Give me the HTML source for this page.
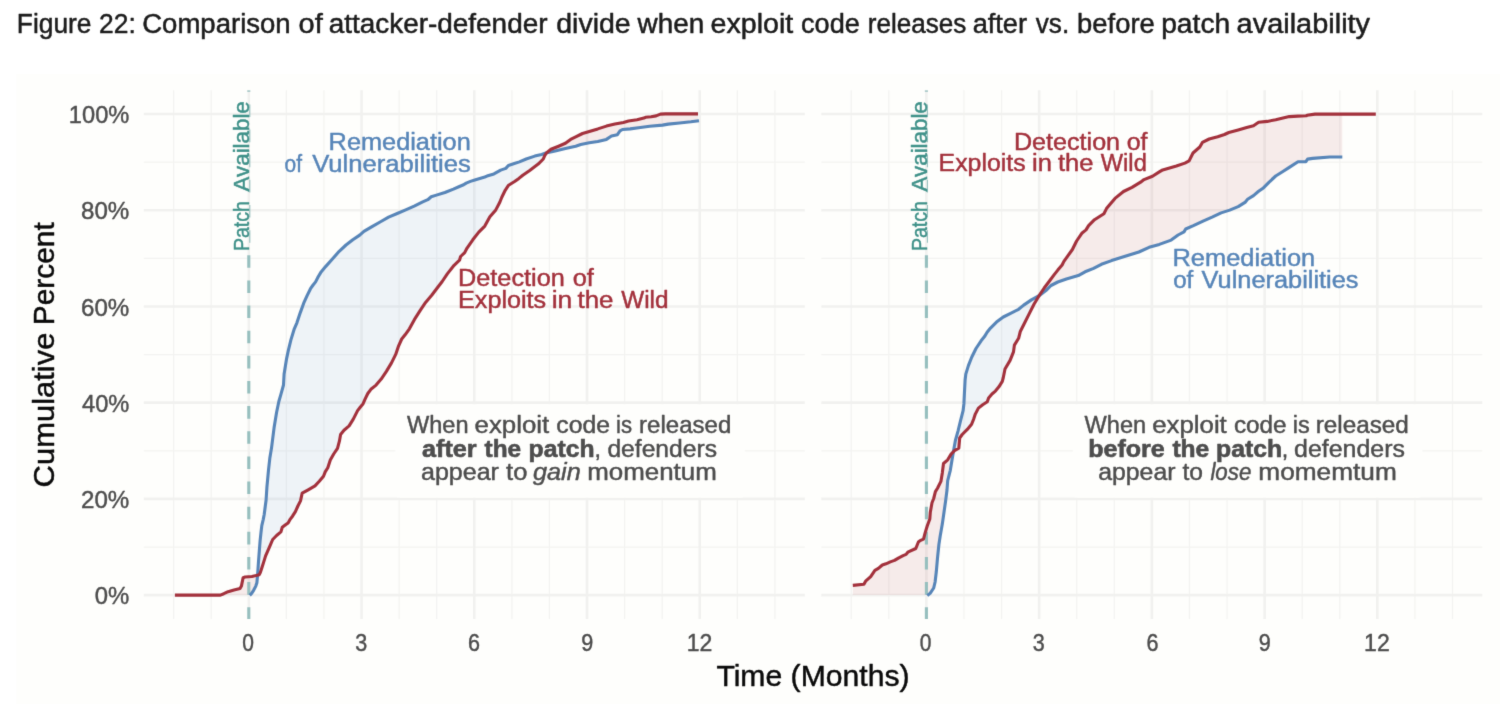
<!DOCTYPE html>
<html>
<head>
<meta charset="utf-8">
<title>Figure 22</title>
<style>
  html, body { margin: 0; padding: 0; background: #ffffff; }
  body { width: 1500px; height: 704px; overflow: hidden; position: relative; font-family: "Liberation Sans", sans-serif; }
  svg { position: absolute; left: 0; top: 0; display: block; }
  text { font-family: "Liberation Sans", sans-serif; white-space: pre; }
</style>
</head>
<body>
<svg width="1500" height="704" viewBox="0 0 1500 704">
<defs><filter id="soft" x="0" y="0" width="1500" height="704" filterUnits="userSpaceOnUse" color-interpolation-filters="sRGB"><feConvolveMatrix order="3" kernelMatrix="0.01134 0.08382 0.01134 0.08382 0.61935 0.08382 0.01134 0.08382 0.01134" edgeMode="duplicate" preserveAlpha="true"/></filter></defs>
<g filter="url(#soft)">
<rect x="-10" y="-10" width="1520" height="724" fill="#ffffff"/>
<rect x="16.5" y="74" width="1493.5" height="640" fill="#fefefc"/>
<g id="gridL"><line x1="143.8" x2="804.8" y1="547.03" y2="547.03" stroke="#f3f3f1" stroke-width="1.25"/>
<line x1="143.8" x2="804.8" y1="450.79" y2="450.79" stroke="#f3f3f1" stroke-width="1.25"/>
<line x1="143.8" x2="804.8" y1="354.55" y2="354.55" stroke="#f3f3f1" stroke-width="1.25"/>
<line x1="143.8" x2="804.8" y1="258.31" y2="258.31" stroke="#f3f3f1" stroke-width="1.25"/>
<line x1="143.8" x2="804.8" y1="162.07" y2="162.07" stroke="#f3f3f1" stroke-width="1.25"/>
<line x1="173.64" x2="173.64" y1="90.3" y2="618.9" stroke="#f3f3f1" stroke-width="1.25"/>
<line x1="211.22" x2="211.22" y1="90.3" y2="618.9" stroke="#f3f3f1" stroke-width="1.25"/>
<line x1="286.38" x2="286.38" y1="90.3" y2="618.9" stroke="#f3f3f1" stroke-width="1.25"/>
<line x1="323.96" x2="323.96" y1="90.3" y2="618.9" stroke="#f3f3f1" stroke-width="1.25"/>
<line x1="399.12" x2="399.12" y1="90.3" y2="618.9" stroke="#f3f3f1" stroke-width="1.25"/>
<line x1="436.70" x2="436.70" y1="90.3" y2="618.9" stroke="#f3f3f1" stroke-width="1.25"/>
<line x1="511.86" x2="511.86" y1="90.3" y2="618.9" stroke="#f3f3f1" stroke-width="1.25"/>
<line x1="549.44" x2="549.44" y1="90.3" y2="618.9" stroke="#f3f3f1" stroke-width="1.25"/>
<line x1="624.60" x2="624.60" y1="90.3" y2="618.9" stroke="#f3f3f1" stroke-width="1.25"/>
<line x1="662.18" x2="662.18" y1="90.3" y2="618.9" stroke="#f3f3f1" stroke-width="1.25"/>
<line x1="737.34" x2="737.34" y1="90.3" y2="618.9" stroke="#f3f3f1" stroke-width="1.25"/>
<line x1="774.92" x2="774.92" y1="90.3" y2="618.9" stroke="#f3f3f1" stroke-width="1.25"/>
<line x1="143.8" x2="804.8" y1="595.15" y2="595.15" stroke="#f1f1ef" stroke-width="2.6"/>
<line x1="143.8" x2="804.8" y1="498.91" y2="498.91" stroke="#f1f1ef" stroke-width="2.6"/>
<line x1="143.8" x2="804.8" y1="402.67" y2="402.67" stroke="#f1f1ef" stroke-width="2.6"/>
<line x1="143.8" x2="804.8" y1="306.43" y2="306.43" stroke="#f1f1ef" stroke-width="2.6"/>
<line x1="143.8" x2="804.8" y1="210.19" y2="210.19" stroke="#f1f1ef" stroke-width="2.6"/>
<line x1="143.8" x2="804.8" y1="113.95" y2="113.95" stroke="#f1f1ef" stroke-width="2.6"/>
<line x1="248.80" x2="248.80" y1="90.3" y2="618.9" stroke="#f1f1ef" stroke-width="2.6"/>
<line x1="361.54" x2="361.54" y1="90.3" y2="618.9" stroke="#f1f1ef" stroke-width="2.6"/>
<line x1="474.28" x2="474.28" y1="90.3" y2="618.9" stroke="#f1f1ef" stroke-width="2.6"/>
<line x1="587.02" x2="587.02" y1="90.3" y2="618.9" stroke="#f1f1ef" stroke-width="2.6"/>
<line x1="699.76" x2="699.76" y1="90.3" y2="618.9" stroke="#f1f1ef" stroke-width="2.6"/></g>
<g id="gridR"><line x1="821.3" x2="1482.3" y1="547.03" y2="547.03" stroke="#f3f3f1" stroke-width="1.25"/>
<line x1="821.3" x2="1482.3" y1="450.79" y2="450.79" stroke="#f3f3f1" stroke-width="1.25"/>
<line x1="821.3" x2="1482.3" y1="354.55" y2="354.55" stroke="#f3f3f1" stroke-width="1.25"/>
<line x1="821.3" x2="1482.3" y1="258.31" y2="258.31" stroke="#f3f3f1" stroke-width="1.25"/>
<line x1="821.3" x2="1482.3" y1="162.07" y2="162.07" stroke="#f3f3f1" stroke-width="1.25"/>
<line x1="851.24" x2="851.24" y1="90.3" y2="618.9" stroke="#f3f3f1" stroke-width="1.25"/>
<line x1="888.82" x2="888.82" y1="90.3" y2="618.9" stroke="#f3f3f1" stroke-width="1.25"/>
<line x1="963.98" x2="963.98" y1="90.3" y2="618.9" stroke="#f3f3f1" stroke-width="1.25"/>
<line x1="1001.56" x2="1001.56" y1="90.3" y2="618.9" stroke="#f3f3f1" stroke-width="1.25"/>
<line x1="1076.72" x2="1076.72" y1="90.3" y2="618.9" stroke="#f3f3f1" stroke-width="1.25"/>
<line x1="1114.30" x2="1114.30" y1="90.3" y2="618.9" stroke="#f3f3f1" stroke-width="1.25"/>
<line x1="1189.46" x2="1189.46" y1="90.3" y2="618.9" stroke="#f3f3f1" stroke-width="1.25"/>
<line x1="1227.04" x2="1227.04" y1="90.3" y2="618.9" stroke="#f3f3f1" stroke-width="1.25"/>
<line x1="1302.20" x2="1302.20" y1="90.3" y2="618.9" stroke="#f3f3f1" stroke-width="1.25"/>
<line x1="1339.78" x2="1339.78" y1="90.3" y2="618.9" stroke="#f3f3f1" stroke-width="1.25"/>
<line x1="1414.94" x2="1414.94" y1="90.3" y2="618.9" stroke="#f3f3f1" stroke-width="1.25"/>
<line x1="1452.52" x2="1452.52" y1="90.3" y2="618.9" stroke="#f3f3f1" stroke-width="1.25"/>
<line x1="821.3" x2="1482.3" y1="595.15" y2="595.15" stroke="#f1f1ef" stroke-width="2.6"/>
<line x1="821.3" x2="1482.3" y1="498.91" y2="498.91" stroke="#f1f1ef" stroke-width="2.6"/>
<line x1="821.3" x2="1482.3" y1="402.67" y2="402.67" stroke="#f1f1ef" stroke-width="2.6"/>
<line x1="821.3" x2="1482.3" y1="306.43" y2="306.43" stroke="#f1f1ef" stroke-width="2.6"/>
<line x1="821.3" x2="1482.3" y1="210.19" y2="210.19" stroke="#f1f1ef" stroke-width="2.6"/>
<line x1="821.3" x2="1482.3" y1="113.95" y2="113.95" stroke="#f1f1ef" stroke-width="2.6"/>
<line x1="926.40" x2="926.40" y1="90.3" y2="618.9" stroke="#f1f1ef" stroke-width="2.6"/>
<line x1="1039.14" x2="1039.14" y1="90.3" y2="618.9" stroke="#f1f1ef" stroke-width="2.6"/>
<line x1="1151.88" x2="1151.88" y1="90.3" y2="618.9" stroke="#f1f1ef" stroke-width="2.6"/>
<line x1="1264.62" x2="1264.62" y1="90.3" y2="618.9" stroke="#f1f1ef" stroke-width="2.6"/>
<line x1="1377.36" x2="1377.36" y1="90.3" y2="618.9" stroke="#f1f1ef" stroke-width="2.6"/></g>
<g id="fillL"><path d="M174.9,595.1 L175.4,595.1 L175.9,595.1 L176.4,595.1 L176.9,595.1 L177.4,595.1 L177.9,595.1 L178.4,595.1 L178.9,595.1 L179.4,595.1 L179.9,595.1 L180.4,595.1 L180.9,595.1 L181.4,595.1 L181.9,595.1 L182.4,595.1 L182.9,595.1 L183.4,595.1 L183.9,595.1 L184.4,595.1 L184.9,595.1 L185.4,595.1 L185.9,595.1 L186.4,595.1 L186.9,595.1 L187.4,595.1 L187.9,595.1 L188.4,595.1 L188.9,595.1 L189.4,595.1 L189.9,595.1 L190.4,595.1 L190.9,595.1 L191.4,595.1 L191.9,595.1 L192.4,595.1 L192.9,595.1 L193.4,595.1 L193.9,595.1 L194.4,595.1 L194.9,595.1 L195.4,595.1 L195.9,595.1 L196.4,595.1 L196.9,595.1 L197.4,595.1 L197.9,595.1 L198.4,595.1 L198.9,595.1 L199.4,595.1 L199.9,595.1 L200.4,595.1 L200.9,595.1 L201.4,595.1 L201.9,595.1 L202.4,595.1 L202.9,595.1 L203.4,595.1 L203.9,595.1 L204.4,595.1 L204.9,595.1 L205.4,595.1 L205.9,595.1 L206.4,595.1 L206.9,595.1 L207.4,595.1 L207.9,595.1 L208.4,595.1 L208.9,595.1 L209.4,595.1 L209.9,595.1 L210.4,595.1 L210.9,595.1 L211.4,595.1 L211.9,595.1 L212.4,595.1 L212.9,595.1 L213.4,595.1 L213.9,595.1 L214.4,595.1 L214.9,595.1 L215.4,595.1 L215.9,595.1 L216.4,595.1 L216.9,595.1 L217.4,595.1 L217.9,595.1 L218.4,595.1 L218.9,595.1 L219.4,595.1 L219.9,595.1 L220.4,595.1 L220.9,594.9 L221.4,594.7 L221.9,594.5 L222.4,594.3 L222.9,594.1 L223.4,593.9 L223.8,593.7 L223.9,593.7 L224.4,593.5 L224.9,593.2 L225.4,593.0 L225.9,592.7 L226.4,592.5 L226.9,592.3 L227.4,592.0 L227.9,591.8 L228.1,591.7 L228.4,591.6 L228.9,591.5 L229.4,591.3 L229.9,591.2 L230.4,591.0 L230.9,590.9 L231.4,590.7 L231.9,590.6 L232.4,590.5 L232.9,590.3 L233.4,590.2 L233.9,590.0 L234.0,590.0 L234.4,589.9 L234.9,589.8 L235.4,589.7 L235.9,589.6 L236.4,589.5 L236.9,589.3 L237.4,589.2 L237.9,589.1 L238.4,589.0 L238.9,588.9 L239.4,588.8 L239.9,588.7 L240.0,588.6 L240.4,587.9 L240.9,587.0 L241.4,586.1 L241.4,585.9 L241.9,583.5 L242.4,581.0 L242.9,578.6 L243.1,577.7 L243.4,577.6 L243.9,577.4 L244.4,577.3 L244.9,577.1 L245.1,577.0 L245.4,577.0 L245.9,577.0 L246.4,576.9 L246.9,576.9 L247.4,576.9 L247.9,576.8 L248.4,576.8 L248.9,576.8 L249.4,576.7 L249.7,576.7 L249.9,576.7 L250.4,576.6 L250.9,576.6 L251.4,576.6 L251.6,576.6 L251.9,576.5 L251.9,576.5 L252.4,576.4 L252.9,576.3 L253.4,576.2 L253.6,576.1 L253.9,576.0 L254.4,575.9 L254.9,575.8 L255.4,575.6 L255.8,575.5 L255.9,575.5 L256.4,575.4 L256.9,575.3 L256.9,575.3 L257.4,575.1 L257.6,575.1 L257.6,575.0 L257.4,576.8 L256.9,582.4 L256.9,582.7 L256.4,584.3 L255.9,585.9 L255.8,586.1 L255.4,587.0 L254.9,587.9 L254.4,588.9 L253.9,589.8 L253.6,590.3 L253.4,590.7 L252.9,591.4 L252.4,592.2 L251.9,592.9 L251.9,592.9 L251.6,593.4 L251.4,593.6 L250.9,594.2 L250.4,594.7 L249.9,595.3 L249.7,595.1 L249.4,595.1 L248.9,595.1 L248.4,595.1 L247.9,595.1 L247.4,595.1 L246.9,595.1 L246.4,595.1 L245.9,595.1 L245.4,595.1 L245.1,595.1 L244.9,595.1 L244.4,595.1 L243.9,595.1 L243.4,595.1 L243.1,595.1 L242.9,595.1 L242.4,595.1 L241.9,595.1 L241.4,595.1 L241.4,595.1 L240.9,595.1 L240.4,595.1 L240.0,595.1 L239.9,595.1 L239.4,595.1 L238.9,595.1 L238.4,595.1 L237.9,595.1 L237.4,595.1 L236.9,595.1 L236.4,595.1 L235.9,595.1 L235.4,595.1 L234.9,595.1 L234.4,595.1 L234.0,595.1 L233.9,595.1 L233.4,595.1 L232.9,595.1 L232.4,595.1 L231.9,595.1 L231.4,595.1 L230.9,595.1 L230.4,595.1 L229.9,595.1 L229.4,595.1 L228.9,595.1 L228.4,595.1 L228.1,595.1 L227.9,595.1 L227.4,595.1 L226.9,595.1 L226.4,595.1 L225.9,595.1 L225.4,595.1 L224.9,595.1 L224.4,595.1 L223.9,595.1 L223.8,595.1 L223.4,595.1 L222.9,595.1 L222.4,595.1 L221.9,595.1 L221.4,595.1 L220.9,595.1 L220.4,595.1 L219.9,595.1 L219.4,595.1 L218.9,595.1 L218.4,595.1 L217.9,595.1 L217.4,595.1 L216.9,595.1 L216.4,595.1 L215.9,595.1 L215.4,595.1 L214.9,595.1 L214.4,595.1 L213.9,595.1 L213.4,595.1 L212.9,595.1 L212.4,595.1 L211.9,595.1 L211.4,595.1 L210.9,595.1 L210.4,595.1 L209.9,595.1 L209.4,595.1 L208.9,595.1 L208.4,595.1 L207.9,595.1 L207.4,595.1 L206.9,595.1 L206.4,595.1 L205.9,595.1 L205.4,595.1 L204.9,595.1 L204.4,595.1 L203.9,595.1 L203.4,595.1 L202.9,595.1 L202.4,595.1 L201.9,595.1 L201.4,595.1 L200.9,595.1 L200.4,595.1 L199.9,595.1 L199.4,595.1 L198.9,595.1 L198.4,595.1 L197.9,595.1 L197.4,595.1 L196.9,595.1 L196.4,595.1 L195.9,595.1 L195.4,595.1 L194.9,595.1 L194.4,595.1 L193.9,595.1 L193.4,595.1 L192.9,595.1 L192.4,595.1 L191.9,595.1 L191.4,595.1 L190.9,595.1 L190.4,595.1 L189.9,595.1 L189.4,595.1 L188.9,595.1 L188.4,595.1 L187.9,595.1 L187.4,595.1 L186.9,595.1 L186.4,595.1 L185.9,595.1 L185.4,595.1 L184.9,595.1 L184.4,595.1 L183.9,595.1 L183.4,595.1 L182.9,595.1 L182.4,595.1 L181.9,595.1 L181.4,595.1 L180.9,595.1 L180.4,595.1 L179.9,595.1 L179.4,595.1 L178.9,595.1 L178.4,595.1 L177.9,595.1 L177.4,595.1 L176.9,595.1 L176.4,595.1 L175.9,595.1 L175.4,595.1 L174.9,595.1 Z" fill="#ae4052" fill-opacity="0.1" stroke="none"/>
<path d="M257.6,575.1 L257.9,575.0 L258.4,574.9 L258.4,574.9 L258.9,574.7 L259.3,574.6 L259.4,574.4 L259.9,573.5 L260.1,573.1 L260.4,572.5 L260.4,572.4 L260.9,571.0 L261.0,570.8 L261.4,569.3 L261.8,567.9 L261.9,567.7 L262.1,566.8 L262.4,566.1 L262.9,564.5 L263.2,563.5 L263.4,562.9 L263.9,561.4 L263.9,561.3 L264.2,560.3 L264.4,559.7 L264.9,558.1 L265.2,557.0 L265.4,556.5 L265.6,555.9 L265.9,555.2 L266.1,554.7 L266.4,554.0 L266.9,552.9 L266.9,552.8 L267.4,551.7 L267.9,550.6 L268.4,549.4 L268.5,549.2 L268.9,548.3 L269.0,548.1 L269.4,547.1 L269.8,546.1 L269.9,546.0 L270.4,544.8 L270.9,543.7 L271.4,542.6 L271.5,542.3 L271.9,541.4 L272.4,540.3 L272.7,539.5 L272.9,539.4 L273.4,538.8 L273.9,538.3 L274.1,538.1 L274.4,537.8 L274.9,537.3 L275.4,536.8 L275.9,536.2 L276.4,535.7 L276.6,535.5 L276.6,535.4 L276.9,535.2 L277.4,534.8 L277.9,534.4 L278.4,534.0 L278.9,533.6 L278.9,533.6 L279.4,533.1 L279.9,532.7 L280.4,532.3 L280.9,531.9 L280.9,531.9 L280.9,531.8 L281.4,530.2 L281.9,528.5 L282.3,527.3 L282.4,527.2 L282.9,526.8 L283.4,526.4 L283.5,526.4 L283.9,526.0 L284.1,525.9 L284.4,525.6 L284.9,525.3 L285.2,525.1 L285.4,524.9 L285.9,524.5 L286.4,524.2 L286.6,524.0 L286.9,523.8 L287.4,523.5 L287.9,523.1 L288.1,523.0 L288.4,522.5 L288.4,522.4 L288.9,521.5 L289.4,520.7 L289.9,519.8 L290.3,519.1 L290.4,518.9 L290.9,518.3 L290.9,518.3 L291.4,517.6 L291.9,517.0 L292.4,516.3 L292.5,516.2 L292.9,515.6 L293.4,514.8 L293.9,514.0 L294.3,513.3 L294.4,513.2 L294.9,512.4 L295.4,511.6 L295.9,510.5 L296.4,509.4 L296.9,508.3 L296.9,508.3 L297.4,507.2 L297.9,506.1 L297.9,506.0 L298.4,505.1 L298.9,504.1 L299.4,503.1 L299.9,502.1 L300.3,501.3 L300.4,501.1 L300.5,500.9 L300.9,499.1 L301.4,496.9 L301.9,494.7 L302.2,493.2 L302.4,493.1 L302.9,492.8 L303.4,492.6 L303.7,492.4 L303.9,492.3 L304.4,492.0 L304.9,491.7 L305.4,491.4 L305.9,491.1 L306.4,490.8 L306.9,490.6 L307.1,490.4 L307.4,490.3 L307.9,490.0 L308.2,489.8 L308.4,489.7 L308.9,489.4 L309.4,489.1 L309.9,488.8 L310.4,488.6 L310.5,488.5 L310.9,488.3 L311.4,488.0 L311.9,487.7 L312.4,487.4 L312.9,487.1 L313.1,487.0 L313.4,486.8 L313.9,486.5 L314.4,486.3 L314.9,486.0 L315.0,485.9 L315.4,485.5 L315.6,485.2 L315.9,484.9 L316.4,484.4 L316.9,483.9 L317.4,483.3 L317.9,482.8 L318.2,482.5 L318.4,482.2 L318.9,481.7 L319.3,481.3 L319.4,481.1 L319.9,480.5 L320.4,479.9 L320.7,479.5 L320.9,479.3 L321.4,478.7 L321.9,478.1 L322.4,477.5 L322.9,476.9 L323.4,476.3 L323.5,476.2 L323.9,475.3 L324.4,474.0 L324.9,472.8 L325.2,471.9 L325.4,471.6 L325.6,471.3 L325.9,470.8 L326.4,470.0 L326.9,469.1 L327.4,468.3 L327.8,467.7 L327.9,467.3 L328.4,465.8 L328.9,464.3 L329.4,462.8 L329.9,461.3 L330.3,460.0 L330.4,459.9 L330.9,459.0 L331.4,458.2 L331.9,457.3 L332.4,456.4 L332.4,456.4 L332.9,455.5 L333.4,454.7 L333.7,454.0 L333.9,453.8 L334.4,453.1 L334.9,452.3 L335.4,451.6 L335.9,450.8 L336.4,450.1 L336.9,449.3 L337.4,448.6 L337.5,448.4 L337.9,446.9 L338.4,445.0 L338.9,443.1 L339.2,441.9 L339.4,441.2 L339.4,441.1 L339.9,438.3 L340.4,435.4 L340.6,434.4 L340.9,434.0 L341.4,433.4 L341.9,432.8 L342.4,432.1 L342.9,431.5 L343.4,430.9 L343.9,430.3 L344.0,430.2 L344.4,429.8 L344.9,429.4 L345.4,429.0 L345.9,428.6 L346.0,428.5 L346.4,428.2 L346.9,427.7 L347.4,427.3 L347.9,426.9 L348.4,426.5 L348.9,426.1 L349.1,425.9 L349.4,425.4 L349.9,424.6 L350.4,423.8 L350.9,423.0 L351.4,422.2 L351.9,421.4 L352.4,420.6 L352.8,419.9 L352.9,419.8 L353.4,419.1 L353.4,419.0 L353.9,418.0 L354.4,417.0 L354.9,416.0 L355.4,415.0 L355.9,414.0 L356.4,413.0 L356.9,412.0 L357.4,411.0 L357.6,410.6 L357.9,410.2 L358.4,409.5 L358.9,408.9 L359.4,408.2 L359.7,407.8 L359.9,407.5 L360.2,407.2 L360.4,406.9 L360.9,406.3 L361.4,405.7 L361.9,405.1 L362.4,404.5 L362.9,404.0 L363.1,403.8 L363.4,403.0 L363.9,401.8 L363.9,401.8 L364.4,400.7 L364.9,399.5 L365.3,398.6 L365.4,398.4 L365.9,397.4 L366.4,396.4 L366.9,395.4 L367.4,394.4 L367.8,393.5 L367.9,393.4 L368.4,392.7 L368.9,392.1 L369.4,391.4 L369.9,390.7 L370.4,390.0 L370.9,389.3 L370.9,389.3 L371.4,388.9 L371.6,388.7 L371.9,388.5 L372.4,388.1 L372.9,387.7 L373.4,387.3 L373.9,386.9 L374.4,386.5 L374.9,386.0 L375.4,385.6 L375.9,385.2 L376.1,385.0 L376.4,384.7 L376.9,384.2 L377.4,383.6 L377.9,383.0 L378.4,382.4 L378.9,381.8 L379.4,381.2 L379.9,380.7 L380.1,380.4 L380.4,380.1 L380.9,379.5 L381.2,379.1 L381.4,378.9 L381.9,378.1 L382.4,377.4 L382.9,376.6 L383.4,375.9 L383.9,375.1 L384.4,374.4 L384.9,373.6 L385.4,372.9 L385.9,372.1 L386.4,371.4 L386.4,371.4 L386.9,370.5 L387.4,369.7 L387.9,368.9 L388.4,368.0 L388.6,367.6 L388.9,367.2 L389.4,366.4 L389.9,365.5 L390.4,364.7 L390.9,363.9 L391.4,363.0 L391.5,362.9 L391.9,362.1 L392.4,361.1 L392.9,360.1 L393.4,359.1 L393.9,358.1 L394.4,357.1 L394.9,356.1 L395.4,355.1 L395.7,354.4 L395.9,353.9 L396.4,352.4 L396.9,350.9 L397.1,350.1 L397.4,349.4 L397.9,347.9 L398.3,346.7 L398.4,346.5 L398.9,345.3 L399.4,344.2 L399.9,343.1 L400.4,342.0 L400.9,340.8 L401.4,339.7 L401.7,339.0 L401.9,338.8 L402.4,338.2 L402.9,337.5 L403.4,336.9 L403.9,336.3 L404.4,335.7 L404.9,335.0 L405.1,334.8 L405.4,334.4 L405.7,334.0 L405.9,333.7 L406.4,333.0 L406.9,332.3 L407.4,331.6 L407.9,330.9 L408.4,330.2 L408.9,329.5 L409.4,328.8 L409.4,328.8 L409.9,327.8 L410.4,326.9 L410.9,326.0 L411.4,325.1 L411.9,324.2 L412.4,323.3 L412.9,322.3 L413.4,321.4 L413.9,320.5 L414.2,319.9 L414.4,319.6 L414.5,319.4 L414.9,318.8 L415.4,318.0 L415.9,317.2 L416.4,316.4 L416.9,315.6 L417.4,314.9 L417.9,314.1 L418.4,313.3 L418.9,312.5 L419.4,311.7 L419.9,310.9 L420.4,310.1 L420.4,310.1 L420.9,309.4 L421.4,308.6 L421.9,307.9 L422.4,307.1 L422.7,306.6 L422.9,306.4 L423.4,305.6 L423.9,304.9 L424.4,304.1 L424.9,303.4 L425.4,302.6 L425.6,302.4 L425.9,302.0 L426.4,301.4 L426.9,300.8 L427.4,300.3 L427.8,299.7 L427.9,299.7 L428.4,299.1 L428.9,298.5 L429.4,297.9 L429.9,297.4 L430.4,296.8 L430.9,296.2 L431.2,295.8 L431.4,295.6 L431.9,295.0 L431.9,295.0 L432.4,294.4 L432.9,293.7 L433.4,293.1 L433.9,292.4 L434.4,291.8 L434.9,291.1 L435.4,290.5 L435.9,289.8 L436.4,289.2 L436.4,289.2 L436.9,288.5 L437.0,288.4 L437.4,287.9 L437.9,287.2 L438.4,286.6 L438.9,285.9 L439.4,285.2 L439.9,284.6 L440.4,283.9 L440.9,283.2 L441.4,282.6 L441.9,281.9 L442.2,281.5 L442.4,281.2 L442.9,280.4 L443.4,279.7 L443.9,278.9 L444.4,278.2 L444.9,277.4 L444.9,277.4 L445.4,276.7 L445.9,275.9 L446.4,275.2 L446.9,274.4 L447.3,273.9 L447.4,273.7 L447.9,273.1 L448.4,272.5 L448.9,271.8 L449.4,271.2 L449.9,270.6 L450.4,270.0 L450.9,269.3 L451.4,268.7 L451.9,268.1 L452.4,267.5 L452.9,266.8 L453.4,266.2 L453.4,266.2 L453.9,265.6 L454.1,265.3 L454.4,265.1 L454.9,264.6 L455.4,264.1 L455.9,263.6 L456.4,263.2 L456.9,262.7 L457.4,262.2 L457.9,261.8 L458.4,261.3 L458.9,260.8 L459.4,260.4 L459.4,260.4 L459.5,260.2 L459.9,259.0 L460.4,257.1 L460.6,256.5 L460.9,256.2 L461.4,255.7 L461.9,255.2 L462.4,254.7 L462.9,254.2 L463.4,253.8 L463.6,253.5 L463.9,253.3 L464.4,252.8 L464.7,252.5 L464.9,252.1 L465.4,251.1 L465.9,250.2 L466.2,249.6 L466.4,249.2 L466.9,248.3 L466.9,248.3 L467.4,247.6 L467.9,246.8 L468.4,246.1 L468.9,245.4 L469.4,244.7 L469.9,244.0 L470.4,243.3 L470.4,243.2 L470.9,242.6 L471.4,241.8 L471.9,241.1 L472.4,240.4 L472.8,239.8 L472.9,239.7 L473.4,239.1 L473.9,238.4 L474.4,237.8 L474.9,237.1 L475.4,236.5 L475.6,236.3 L475.9,235.8 L476.4,235.2 L476.9,234.6 L477.4,233.9 L477.9,233.3 L478.4,232.6 L478.8,232.1 L478.9,232.0 L479.4,231.5 L479.9,231.0 L480.4,230.5 L480.9,230.0 L481.4,229.5 L481.9,229.0 L482.4,228.5 L482.9,228.0 L483.4,227.5 L483.9,227.0 L484.4,226.5 L484.8,226.1 L484.9,225.9 L485.4,225.0 L485.9,224.1 L486.4,223.2 L486.9,222.2 L487.0,222.0 L487.4,221.3 L487.9,220.4 L488.4,219.5 L488.9,218.6 L489.4,217.7 L489.9,216.8 L489.9,216.8 L490.4,216.2 L490.9,215.6 L491.4,215.0 L491.9,214.5 L492.4,213.9 L492.9,213.3 L493.4,212.8 L493.9,212.2 L493.9,212.2 L494.4,211.6 L494.9,211.0 L495.4,210.5 L495.9,209.9 L495.9,209.9 L496.4,208.9 L496.9,207.9 L497.4,206.9 L497.9,205.9 L498.4,205.0 L498.9,204.0 L499.4,203.0 L499.8,202.3 L499.9,202.0 L500.4,200.7 L500.7,200.0 L500.9,199.5 L501.4,198.2 L501.8,197.2 L501.9,197.0 L502.4,196.0 L502.9,195.0 L503.4,194.0 L503.9,193.0 L504.4,192.0 L504.9,191.0 L505.2,190.3 L505.4,190.1 L505.8,189.5 L505.9,189.3 L506.4,188.6 L506.9,187.8 L507.4,187.1 L507.9,186.3 L508.4,185.6 L508.4,185.6 L508.6,185.2 L508.9,185.1 L509.4,184.7 L509.9,184.4 L510.4,184.1 L510.9,183.8 L511.4,183.5 L511.9,183.2 L512.4,182.9 L512.9,182.5 L513.4,182.2 L513.9,181.9 L514.3,181.7 L514.4,181.6 L514.6,181.5 L514.9,181.3 L515.4,180.9 L515.9,180.5 L516.4,180.2 L516.9,179.8 L517.4,179.5 L517.9,179.1 L518.4,178.7 L518.9,178.4 L518.9,178.4 L519.4,178.0 L519.4,178.0 L519.9,177.6 L520.4,177.2 L520.9,176.8 L521.4,176.4 L521.9,176.0 L522.4,175.6 L522.8,175.2 L522.9,175.2 L523.4,174.8 L523.9,174.5 L524.4,174.1 L524.9,173.8 L525.4,173.4 L525.9,173.1 L526.2,172.8 L526.4,172.7 L526.9,172.4 L527.4,172.0 L527.9,171.7 L528.4,171.3 L528.9,171.0 L529.4,170.6 L529.7,170.4 L529.9,170.3 L530.4,169.9 L530.9,169.5 L531.4,169.2 L531.9,168.8 L532.4,168.4 L532.9,168.1 L533.4,167.7 L533.9,167.3 L534.4,166.9 L534.8,166.7 L534.9,166.6 L535.4,166.2 L535.9,165.8 L536.4,165.5 L536.9,165.1 L537.4,164.7 L537.9,164.4 L538.2,164.1 L538.4,163.9 L538.9,163.4 L539.4,162.9 L539.9,162.4 L540.4,161.9 L540.9,161.4 L541.4,160.9 L541.6,160.7 L541.9,160.4 L542.4,159.9 L542.9,159.4 L543.3,159.0 L543.4,158.8 L543.9,157.5 L544.4,156.3 L544.6,155.6 L544.9,155.3 L545.4,154.6 L545.9,153.9 L545.9,153.9 L546.4,153.2 L546.7,152.7 L546.7,152.9 L546.4,152.9 L545.9,153.1 L545.9,153.1 L545.4,153.2 L544.9,153.4 L544.6,153.4 L544.4,153.5 L543.9,153.7 L543.4,153.9 L543.3,153.9 L542.9,154.0 L542.4,154.2 L541.9,154.3 L541.6,154.4 L541.4,154.5 L540.9,154.6 L540.4,154.7 L539.9,154.9 L539.4,155.0 L538.9,155.1 L538.4,155.2 L538.2,155.3 L537.9,155.4 L537.4,155.5 L536.9,155.6 L536.4,155.7 L535.9,155.9 L535.4,156.0 L534.9,156.1 L534.8,156.1 L534.4,156.3 L533.9,156.4 L533.4,156.6 L532.9,156.8 L532.4,156.9 L531.9,157.1 L531.4,157.3 L530.9,157.5 L530.4,157.6 L529.9,157.8 L529.7,157.9 L529.4,158.0 L528.9,158.1 L528.4,158.3 L527.9,158.5 L527.4,158.6 L526.9,158.8 L526.4,159.0 L526.2,159.0 L525.9,159.2 L525.4,159.4 L524.9,159.6 L524.4,159.8 L523.9,160.0 L523.4,160.2 L522.9,160.5 L522.8,160.5 L522.4,160.7 L521.9,160.9 L521.4,161.1 L520.9,161.3 L520.4,161.5 L519.9,161.7 L519.4,161.9 L519.4,161.9 L518.9,162.1 L518.9,162.1 L518.4,162.3 L517.9,162.4 L517.4,162.6 L516.9,162.8 L516.4,162.9 L515.9,163.1 L515.4,163.3 L514.9,163.4 L514.6,163.5 L514.4,163.6 L514.3,163.6 L513.9,163.8 L513.4,163.9 L512.9,164.1 L512.4,164.2 L511.9,164.4 L511.4,164.6 L510.9,164.7 L510.4,164.9 L509.9,165.0 L509.4,165.2 L508.9,165.3 L508.6,165.4 L508.4,165.5 L508.4,165.5 L507.9,166.0 L507.4,166.6 L506.9,167.2 L506.4,167.7 L505.9,168.3 L505.8,168.4 L505.4,168.5 L505.2,168.6 L504.9,168.7 L504.4,168.9 L503.9,169.0 L503.4,169.2 L502.9,169.4 L502.4,169.5 L501.9,169.7 L501.8,169.7 L501.4,169.9 L500.9,170.0 L500.7,170.1 L500.4,170.3 L499.9,170.5 L499.8,170.6 L499.4,170.8 L498.9,171.1 L498.4,171.4 L497.9,171.6 L497.4,171.9 L496.9,172.2 L496.4,172.5 L495.9,172.7 L495.9,172.8 L495.4,173.0 L494.9,173.3 L494.4,173.6 L493.9,173.8 L493.9,173.9 L493.4,174.0 L492.9,174.2 L492.4,174.3 L491.9,174.5 L491.4,174.7 L490.9,174.8 L490.4,175.0 L489.9,175.1 L489.9,175.2 L489.4,175.3 L488.9,175.5 L488.4,175.6 L487.9,175.8 L487.4,176.0 L487.0,176.1 L486.9,176.1 L486.4,176.4 L485.9,176.6 L485.4,176.8 L484.9,177.0 L484.8,177.0 L484.4,177.2 L483.9,177.3 L483.4,177.4 L482.9,177.6 L482.4,177.7 L481.9,177.9 L481.4,178.0 L480.9,178.2 L480.4,178.3 L479.9,178.5 L479.4,178.6 L478.9,178.7 L478.8,178.8 L478.4,178.9 L477.9,179.0 L477.4,179.2 L476.9,179.3 L476.4,179.5 L475.9,179.6 L475.6,179.7 L475.4,179.8 L474.9,179.9 L474.4,180.1 L473.9,180.3 L473.4,180.4 L472.9,180.6 L472.8,180.6 L472.4,180.8 L471.9,180.9 L471.4,181.1 L470.9,181.3 L470.4,181.4 L470.4,181.4 L469.9,181.6 L469.4,181.8 L468.9,182.0 L468.4,182.2 L467.9,182.4 L467.4,182.6 L466.9,182.8 L466.9,182.8 L466.4,183.0 L466.2,183.1 L465.9,183.3 L465.4,183.7 L464.9,184.0 L464.7,184.1 L464.4,184.3 L463.9,184.7 L463.6,184.8 L463.4,184.9 L462.9,185.1 L462.4,185.3 L461.9,185.5 L461.4,185.7 L460.9,185.9 L460.6,186.1 L460.4,186.1 L459.9,186.3 L459.5,186.5 L459.4,186.5 L459.4,186.5 L458.9,186.7 L458.4,187.0 L457.9,187.2 L457.4,187.4 L456.9,187.6 L456.4,187.8 L455.9,188.0 L455.4,188.2 L454.9,188.5 L454.4,188.7 L454.1,188.8 L453.9,188.9 L453.4,189.1 L453.4,189.1 L452.9,189.3 L452.4,189.5 L451.9,189.7 L451.4,189.9 L450.9,190.1 L450.4,190.3 L449.9,190.5 L449.4,190.7 L448.9,190.9 L448.4,191.1 L447.9,191.3 L447.4,191.5 L447.3,191.5 L446.9,191.7 L446.4,191.9 L445.9,192.1 L445.4,192.3 L444.9,192.5 L444.9,192.5 L444.4,192.6 L443.9,192.8 L443.4,192.9 L442.9,193.1 L442.4,193.2 L442.2,193.3 L441.9,193.4 L441.4,193.5 L440.9,193.7 L440.4,193.8 L439.9,194.0 L439.4,194.1 L438.9,194.3 L438.4,194.4 L437.9,194.6 L437.4,194.7 L437.0,194.8 L436.9,194.9 L436.4,195.0 L436.4,195.1 L435.9,195.2 L435.4,195.4 L434.9,195.5 L434.4,195.7 L433.9,195.9 L433.4,196.0 L432.9,196.2 L432.4,196.4 L431.9,196.5 L431.9,196.5 L431.4,196.7 L431.2,196.8 L430.9,197.1 L430.4,197.5 L429.9,197.9 L429.4,198.3 L428.9,198.8 L428.4,199.2 L427.9,199.6 L427.8,199.7 L427.4,199.8 L426.9,200.1 L426.4,200.3 L425.9,200.5 L425.6,200.6 L425.4,200.7 L424.9,200.9 L424.4,201.1 L423.9,201.4 L423.4,201.6 L422.9,201.8 L422.7,201.9 L422.4,202.0 L421.9,202.3 L421.4,202.5 L420.9,202.8 L420.4,203.0 L420.4,203.0 L419.9,203.3 L419.4,203.5 L418.9,203.8 L418.4,204.0 L417.9,204.3 L417.4,204.5 L416.9,204.8 L416.4,205.0 L415.9,205.3 L415.4,205.5 L414.9,205.8 L414.5,206.0 L414.4,206.0 L414.2,206.1 L413.9,206.3 L413.4,206.5 L412.9,206.7 L412.4,206.9 L411.9,207.1 L411.4,207.4 L410.9,207.6 L410.4,207.8 L409.9,208.0 L409.4,208.2 L409.4,208.3 L408.9,208.5 L408.4,208.7 L407.9,208.9 L407.4,209.1 L406.9,209.3 L406.4,209.6 L405.9,209.8 L405.7,209.9 L405.4,210.0 L405.1,210.1 L404.9,210.2 L404.4,210.4 L403.9,210.6 L403.4,210.8 L402.9,211.1 L402.4,211.3 L401.9,211.5 L401.7,211.6 L401.4,211.7 L400.9,211.9 L400.4,212.1 L399.9,212.3 L399.4,212.5 L398.9,212.7 L398.4,212.9 L398.3,213.0 L397.9,213.2 L397.4,213.4 L397.1,213.5 L396.9,213.6 L396.4,213.8 L395.9,214.0 L395.7,214.1 L395.4,214.2 L394.9,214.5 L394.4,214.7 L393.9,214.9 L393.4,215.1 L392.9,215.3 L392.4,215.6 L391.9,215.8 L391.5,216.0 L391.4,216.0 L390.9,216.2 L390.4,216.4 L389.9,216.7 L389.4,216.9 L388.9,217.1 L388.6,217.2 L388.4,217.3 L387.9,217.6 L387.4,217.9 L386.9,218.2 L386.4,218.5 L386.4,218.5 L385.9,218.7 L385.4,219.0 L384.9,219.3 L384.4,219.6 L383.9,219.9 L383.4,220.1 L382.9,220.4 L382.4,220.7 L381.9,221.0 L381.4,221.3 L381.2,221.4 L380.9,221.5 L380.4,221.8 L380.1,222.0 L379.9,222.1 L379.4,222.4 L378.9,222.7 L378.4,223.0 L377.9,223.3 L377.4,223.6 L376.9,223.9 L376.4,224.1 L376.1,224.3 L375.9,224.4 L375.4,224.7 L374.9,225.0 L374.4,225.3 L373.9,225.6 L373.4,225.9 L372.9,226.2 L372.4,226.5 L371.9,226.8 L371.6,226.9 L371.4,227.0 L370.9,227.3 L370.9,227.3 L370.4,227.6 L369.9,227.9 L369.4,228.2 L368.9,228.5 L368.4,228.8 L367.9,229.1 L367.8,229.1 L367.4,229.4 L366.9,229.6 L366.4,229.9 L365.9,230.2 L365.4,230.5 L365.3,230.6 L364.9,230.8 L364.4,231.1 L363.9,231.4 L363.9,231.4 L363.4,231.8 L363.1,232.1 L362.9,232.3 L362.4,232.7 L361.9,233.1 L361.4,233.6 L360.9,234.0 L360.4,234.5 L360.2,234.7 L359.9,234.9 L359.7,235.1 L359.4,235.3 L358.9,235.6 L358.4,236.0 L357.9,236.3 L357.6,236.5 L357.4,236.6 L356.9,237.0 L356.4,237.3 L355.9,237.7 L355.4,238.0 L354.9,238.3 L354.4,238.7 L353.9,239.0 L353.4,239.3 L353.4,239.4 L352.9,239.7 L352.8,239.7 L352.4,240.1 L351.9,240.4 L351.4,240.8 L350.9,241.2 L350.4,241.6 L349.9,242.0 L349.4,242.4 L349.1,242.6 L348.9,242.8 L348.4,243.2 L347.9,243.5 L347.4,243.9 L346.9,244.3 L346.4,244.7 L346.0,245.0 L345.9,245.1 L345.4,245.6 L344.9,246.0 L344.4,246.5 L344.0,246.9 L343.9,247.0 L343.4,247.4 L342.9,247.9 L342.4,248.4 L341.9,248.8 L341.4,249.3 L340.9,249.7 L340.6,250.0 L340.4,250.2 L339.9,250.7 L339.4,251.1 L339.4,251.1 L339.2,251.3 L338.9,251.7 L338.4,252.2 L337.9,252.8 L337.5,253.2 L337.4,253.3 L336.9,253.9 L336.4,254.5 L335.9,255.0 L335.4,255.6 L334.9,256.2 L334.4,256.7 L333.9,257.3 L333.7,257.4 L333.4,257.8 L332.9,258.4 L332.4,259.0 L332.4,259.0 L331.9,259.5 L331.4,260.1 L330.9,260.7 L330.4,261.2 L330.3,261.3 L329.9,261.8 L329.4,262.3 L328.9,262.9 L328.4,263.5 L327.9,264.0 L327.8,264.2 L327.4,264.6 L326.9,265.2 L326.4,265.7 L325.9,266.3 L325.6,266.6 L325.4,266.9 L325.2,267.1 L324.9,267.5 L324.4,268.1 L323.9,268.7 L323.5,269.1 L323.4,269.3 L322.9,269.9 L322.4,270.5 L321.9,271.1 L321.4,271.8 L320.9,272.4 L320.7,272.6 L320.4,273.1 L319.9,274.0 L319.4,274.8 L319.3,275.0 L318.9,275.6 L318.4,276.5 L318.2,276.8 L317.9,277.4 L317.4,278.4 L316.9,279.4 L316.4,280.4 L315.9,281.4 L315.6,281.9 L315.4,282.2 L315.0,282.7 L314.9,282.8 L314.4,283.4 L313.9,284.0 L313.4,284.6 L313.1,285.0 L312.9,285.3 L312.4,286.0 L311.9,286.7 L311.4,287.5 L310.9,288.2 L310.5,288.7 L310.4,289.0 L309.9,290.0 L309.4,291.0 L308.9,292.0 L308.4,293.0 L308.2,293.4 L307.9,294.0 L307.4,295.0 L307.1,295.6 L306.9,296.0 L306.4,297.2 L305.9,298.3 L305.4,299.4 L304.9,300.5 L304.4,301.7 L303.9,302.8 L303.7,303.2 L303.4,304.1 L302.9,305.4 L302.4,306.8 L302.2,307.3 L301.9,308.2 L301.4,309.6 L300.9,310.9 L300.5,312.0 L300.4,312.3 L300.3,312.6 L299.9,313.8 L299.4,315.3 L298.9,316.8 L298.4,318.3 L297.9,319.6 L297.9,319.8 L297.4,321.3 L296.9,322.8 L296.9,322.8 L296.4,324.0 L295.9,325.1 L295.4,326.3 L294.9,327.5 L294.4,328.6 L294.3,328.8 L293.9,330.2 L293.4,331.8 L292.9,333.4 L292.5,334.7 L292.4,335.1 L291.9,336.7 L291.4,338.3 L290.9,339.9 L290.9,339.9 L290.4,341.9 L290.3,342.4 L289.9,343.9 L289.4,345.9 L288.9,347.9 L288.4,349.9 L288.4,350.1 L288.1,351.6 L287.9,352.4 L287.4,354.9 L286.9,357.4 L286.6,358.6 L286.4,360.2 L285.9,363.2 L285.4,366.2 L285.2,367.5 L284.9,369.2 L284.4,372.2 L284.1,374.0 L283.9,377.5 L283.5,385.0 L283.4,385.3 L282.9,387.1 L282.4,388.9 L282.3,389.4 L281.9,390.8 L281.4,392.6 L280.9,394.4 L280.9,394.4 L280.9,394.4 L280.4,396.1 L279.9,397.8 L279.4,399.4 L278.9,401.1 L278.9,401.2 L278.4,403.5 L277.9,406.0 L277.4,408.5 L276.9,411.0 L276.6,412.2 L276.6,412.3 L276.4,413.8 L275.9,416.8 L275.4,419.8 L274.9,422.8 L274.4,425.8 L274.1,427.6 L273.9,429.2 L273.4,433.2 L272.9,437.2 L272.7,438.6 L272.4,441.2 L271.9,445.2 L271.5,448.1 L271.4,448.9 L270.9,451.9 L270.4,454.9 L269.9,457.9 L269.8,458.3 L269.4,462.1 L269.0,465.8 L268.9,466.5 L268.5,470.3 L268.4,471.0 L267.9,476.6 L267.4,482.2 L266.9,487.3 L266.9,487.9 L266.4,495.3 L266.1,500.0 L265.9,501.5 L265.6,504.1 L265.4,505.5 L265.2,506.8 L264.9,509.3 L264.4,513.1 L264.2,514.5 L263.9,516.0 L263.9,516.2 L263.4,518.5 L263.2,519.6 L262.9,520.9 L262.4,523.0 L262.1,524.1 L261.9,525.2 L261.8,525.6 L261.4,528.9 L261.0,532.4 L260.9,533.1 L260.4,537.5 L260.4,538.1 L260.1,540.9 L259.9,543.5 L259.4,549.5 L259.3,551.1 L258.9,556.3 L258.4,563.1 L258.4,563.3 L257.9,570.3 L257.6,575.0 Z" fill="#5e90ca" fill-opacity="0.1" stroke="none"/>
<path d="M546.7,152.7 L546.9,152.6 L547.4,152.2 L547.9,151.8 L548.4,151.4 L548.9,151.0 L549.4,150.6 L549.9,150.2 L550.4,149.8 L550.9,149.4 L551.0,149.3 L551.4,149.1 L551.9,148.9 L552.4,148.7 L552.9,148.5 L553.4,148.3 L553.9,148.1 L554.4,147.9 L554.9,147.7 L555.2,147.6 L555.4,147.5 L555.9,147.3 L556.4,147.1 L556.9,146.9 L557.4,146.7 L557.9,146.5 L558.4,146.3 L558.6,146.2 L558.9,146.1 L559.4,145.9 L559.9,145.7 L560.4,145.5 L560.9,145.3 L561.4,145.1 L561.9,144.9 L562.4,144.6 L562.9,144.4 L563.4,144.2 L563.9,144.0 L564.4,143.8 L564.9,143.6 L565.4,143.4 L565.5,143.3 L565.9,143.0 L566.4,142.6 L566.9,142.2 L567.4,141.9 L567.9,141.5 L568.4,141.1 L568.9,140.7 L569.4,140.3 L569.9,139.9 L570.4,139.6 L570.6,139.4 L570.9,139.3 L571.4,139.0 L571.9,138.8 L572.4,138.5 L572.9,138.3 L573.4,138.0 L573.9,137.8 L574.4,137.5 L574.9,137.3 L575.4,137.0 L575.7,136.9 L575.9,136.8 L576.4,136.5 L576.9,136.3 L577.4,136.0 L577.9,135.8 L578.4,135.5 L578.9,135.3 L579.4,135.0 L579.9,134.8 L580.4,134.5 L580.8,134.3 L580.9,134.3 L581.4,134.0 L581.9,133.8 L582.4,133.5 L582.5,133.5 L582.9,133.3 L583.4,133.2 L583.9,133.0 L584.4,132.9 L584.9,132.7 L585.4,132.6 L585.9,132.4 L586.4,132.3 L586.9,132.1 L587.4,132.0 L587.9,131.8 L588.4,131.7 L588.9,131.5 L589.3,131.4 L589.4,131.4 L589.9,131.2 L590.4,131.1 L590.9,130.9 L591.4,130.8 L591.9,130.6 L592.4,130.5 L592.9,130.3 L593.4,130.2 L593.9,130.0 L594.4,129.9 L594.9,129.7 L595.4,129.6 L595.9,129.4 L596.4,129.3 L596.9,129.1 L597.4,129.0 L597.8,128.9 L597.9,128.8 L598.4,128.7 L598.9,128.5 L599.4,128.4 L599.9,128.2 L600.4,128.0 L600.9,127.9 L601.4,127.7 L601.9,127.6 L602.4,127.4 L602.9,127.2 L603.4,127.1 L603.9,126.9 L604.4,126.8 L604.9,126.6 L605.4,126.4 L605.9,126.3 L606.4,126.1 L606.4,126.1 L606.9,126.0 L607.4,125.9 L607.9,125.8 L608.4,125.6 L608.9,125.5 L609.4,125.4 L609.9,125.3 L610.4,125.2 L610.9,125.0 L611.4,124.9 L611.5,124.9 L611.9,124.8 L612.4,124.7 L612.9,124.6 L613.4,124.4 L613.9,124.3 L614.4,124.2 L614.9,124.1 L614.9,124.1 L615.4,124.0 L615.9,123.9 L616.4,123.8 L616.9,123.7 L617.4,123.6 L617.4,123.6 L617.9,123.5 L618.4,123.4 L618.9,123.3 L619.4,123.2 L619.9,123.1 L620.0,123.1 L620.4,123.0 L620.9,122.9 L621.4,122.8 L621.9,122.7 L622.4,122.6 L622.5,122.6 L622.9,122.5 L623.4,122.4 L623.4,122.4 L623.9,122.3 L624.4,122.1 L624.9,122.0 L625.4,121.9 L625.9,121.7 L626.4,121.6 L626.9,121.5 L627.4,121.3 L627.9,121.2 L628.4,121.1 L628.5,121.0 L628.9,121.0 L629.4,120.9 L629.9,120.8 L630.2,120.8 L630.4,120.8 L630.9,120.7 L631.4,120.6 L631.9,120.5 L632.4,120.5 L632.9,120.4 L633.4,120.3 L633.9,120.3 L634.4,120.2 L634.9,120.1 L635.4,120.1 L635.9,120.0 L636.4,119.9 L636.9,119.8 L637.0,119.8 L637.4,119.7 L637.9,119.6 L638.4,119.5 L638.9,119.4 L639.4,119.2 L639.9,119.1 L640.4,119.0 L640.4,119.0 L640.9,118.9 L641.4,118.7 L641.9,118.6 L642.4,118.5 L642.9,118.4 L643.4,118.2 L643.9,118.1 L643.9,118.1 L644.4,117.8 L644.9,117.6 L645.4,117.3 L645.5,117.3 L645.9,117.2 L646.4,117.2 L646.9,117.1 L647.4,117.1 L647.9,117.0 L648.4,117.0 L648.9,116.9 L649.4,116.9 L649.7,116.8 L649.9,116.8 L650.4,116.8 L650.9,116.7 L651.1,116.7 L651.4,116.7 L651.9,116.6 L652.4,116.5 L652.9,116.4 L653.4,116.3 L653.9,116.2 L654.4,116.1 L654.9,116.1 L655.4,116.0 L655.9,115.9 L656.1,115.9 L656.4,115.7 L656.9,115.5 L657.4,115.3 L657.9,115.1 L658.4,114.9 L658.9,114.7 L659.4,114.5 L659.9,114.3 L660.4,114.1 L660.4,114.1 L660.9,114.1 L661.4,114.1 L661.9,114.1 L662.4,114.0 L662.5,114.0 L662.9,114.0 L663.4,114.0 L663.9,113.9 L664.4,113.9 L664.9,113.9 L665.3,113.9 L665.4,113.9 L665.9,113.9 L666.4,113.9 L666.9,113.9 L667.4,113.9 L667.9,113.9 L668.2,113.9 L668.4,113.9 L668.9,113.9 L669.4,113.9 L669.9,113.9 L670.4,113.9 L670.9,113.9 L671.4,113.9 L671.9,113.9 L672.4,113.9 L672.9,113.9 L673.4,113.9 L673.9,113.9 L674.4,113.9 L674.9,113.9 L675.4,113.9 L675.9,113.9 L676.4,113.9 L676.9,113.9 L677.4,113.9 L677.9,113.9 L678.4,113.9 L678.9,113.9 L679.4,113.9 L679.5,113.9 L679.9,113.9 L680.4,113.9 L680.9,113.9 L681.4,113.9 L681.9,113.9 L682.4,113.9 L682.9,113.9 L683.4,113.9 L683.9,113.9 L684.4,113.9 L684.9,113.9 L685.4,113.9 L685.9,113.9 L686.4,113.9 L686.9,113.9 L687.4,113.9 L687.9,113.9 L688.4,113.9 L688.9,113.9 L689.4,113.9 L689.9,113.9 L690.4,113.9 L690.9,113.9 L690.9,113.9 L691.4,113.9 L691.9,113.9 L692.4,113.9 L692.9,113.9 L693.4,113.9 L693.9,113.9 L694.4,113.9 L694.9,113.9 L695.4,113.9 L695.9,113.9 L696.4,113.9 L696.9,113.9 L697.4,113.9 L697.9,113.9 L698.0,113.9 L698.0,120.8 L697.9,120.8 L697.4,120.9 L696.9,121.0 L696.4,121.0 L695.9,121.1 L695.4,121.2 L694.9,121.3 L694.4,121.3 L693.9,121.4 L693.4,121.5 L692.9,121.5 L692.4,121.6 L691.9,121.7 L691.4,121.8 L690.9,121.8 L690.9,121.8 L690.4,121.9 L689.9,121.9 L689.4,122.0 L688.9,122.0 L688.4,122.1 L687.9,122.1 L687.4,122.2 L686.9,122.2 L686.4,122.3 L685.9,122.3 L685.4,122.4 L684.9,122.4 L684.4,122.5 L683.9,122.5 L683.4,122.6 L682.9,122.6 L682.4,122.7 L681.9,122.7 L681.4,122.8 L680.9,122.8 L680.4,122.9 L679.9,122.9 L679.5,123.0 L679.4,123.0 L678.9,123.0 L678.4,123.1 L677.9,123.1 L677.4,123.2 L676.9,123.2 L676.4,123.3 L675.9,123.3 L675.4,123.4 L674.9,123.4 L674.4,123.5 L673.9,123.5 L673.4,123.6 L672.9,123.6 L672.4,123.7 L671.9,123.7 L671.4,123.8 L670.9,123.8 L670.4,123.9 L669.9,123.9 L669.4,124.0 L668.9,124.0 L668.4,124.1 L668.2,124.1 L667.9,124.1 L667.4,124.2 L666.9,124.3 L666.4,124.4 L665.9,124.5 L665.4,124.6 L665.3,124.6 L664.9,124.7 L664.4,124.8 L663.9,124.8 L663.4,124.9 L662.9,125.0 L662.5,125.1 L662.4,125.1 L661.9,125.1 L661.4,125.2 L660.9,125.2 L660.4,125.3 L660.4,125.3 L659.9,125.3 L659.4,125.4 L658.9,125.4 L658.4,125.5 L657.9,125.5 L657.4,125.5 L656.9,125.6 L656.4,125.6 L656.1,125.7 L655.9,125.7 L655.4,125.7 L654.9,125.8 L654.4,125.8 L653.9,125.9 L653.4,125.9 L652.9,125.9 L652.4,126.0 L651.9,126.0 L651.4,126.1 L651.1,126.1 L650.9,126.1 L650.4,126.2 L649.9,126.2 L649.7,126.2 L649.4,126.3 L648.9,126.3 L648.4,126.4 L647.9,126.5 L647.4,126.5 L646.9,126.6 L646.4,126.7 L645.9,126.7 L645.5,126.8 L645.4,126.8 L644.9,126.9 L644.4,127.0 L643.9,127.0 L643.9,127.0 L643.4,127.1 L642.9,127.2 L642.4,127.2 L641.9,127.3 L641.4,127.4 L640.9,127.4 L640.4,127.5 L640.4,127.5 L639.9,127.6 L639.4,127.6 L638.9,127.7 L638.4,127.8 L637.9,127.8 L637.4,127.9 L637.0,128.0 L636.9,128.0 L636.4,128.0 L635.9,128.1 L635.4,128.2 L634.9,128.2 L634.4,128.3 L633.9,128.4 L633.4,128.4 L632.9,128.5 L632.4,128.6 L631.9,128.6 L631.4,128.7 L630.9,128.8 L630.4,128.8 L630.2,128.9 L629.9,128.9 L629.4,128.9 L628.9,129.0 L628.5,129.0 L628.4,129.0 L627.9,129.1 L627.4,129.1 L626.9,129.2 L626.4,129.2 L625.9,129.2 L625.4,129.3 L624.9,129.3 L624.4,129.4 L623.9,129.4 L623.4,129.5 L623.4,129.5 L622.9,129.5 L622.5,129.5 L622.4,129.6 L621.9,129.9 L621.4,130.2 L620.9,130.4 L620.4,130.7 L620.0,130.9 L619.9,131.1 L619.4,131.8 L618.9,132.5 L618.4,133.3 L617.9,134.0 L617.4,134.7 L617.4,134.7 L616.9,134.8 L616.4,134.9 L615.9,135.0 L615.4,135.1 L614.9,135.2 L614.9,135.2 L614.4,135.4 L613.9,135.5 L613.4,135.6 L612.9,135.7 L612.4,135.8 L611.9,135.9 L611.5,136.0 L611.4,136.1 L610.9,136.4 L610.4,136.7 L609.9,137.1 L609.4,137.4 L608.9,137.7 L608.4,138.1 L607.9,138.4 L607.4,138.7 L606.9,139.1 L606.4,139.4 L606.4,139.4 L605.9,139.5 L605.4,139.7 L604.9,139.8 L604.4,139.9 L603.9,140.0 L603.4,140.1 L602.9,140.3 L602.4,140.4 L601.9,140.5 L601.4,140.6 L600.9,140.7 L600.4,140.9 L599.9,141.0 L599.4,141.1 L598.9,141.2 L598.4,141.3 L597.9,141.5 L597.8,141.5 L597.4,141.5 L596.9,141.6 L596.4,141.7 L595.9,141.8 L595.4,141.9 L594.9,141.9 L594.4,142.0 L593.9,142.1 L593.4,142.2 L592.9,142.3 L592.4,142.3 L591.9,142.4 L591.4,142.5 L590.9,142.6 L590.4,142.7 L589.9,142.7 L589.4,142.8 L589.3,142.8 L588.9,142.9 L588.4,143.0 L587.9,143.1 L587.4,143.2 L586.9,143.3 L586.4,143.4 L585.9,143.5 L585.4,143.6 L584.9,143.7 L584.4,143.8 L583.9,143.9 L583.4,144.0 L582.9,144.1 L582.5,144.2 L582.4,144.2 L581.9,144.3 L581.4,144.4 L580.9,144.5 L580.8,144.5 L580.4,144.7 L579.9,144.8 L579.4,145.0 L578.9,145.2 L578.4,145.3 L577.9,145.5 L577.4,145.7 L576.9,145.8 L576.4,146.0 L575.9,146.2 L575.7,146.2 L575.4,146.3 L574.9,146.4 L574.4,146.5 L573.9,146.6 L573.4,146.7 L572.9,146.9 L572.4,147.0 L571.9,147.1 L571.4,147.2 L570.9,147.3 L570.6,147.4 L570.4,147.4 L569.9,147.5 L569.4,147.6 L568.9,147.7 L568.4,147.8 L567.9,147.9 L567.4,148.0 L566.9,148.2 L566.4,148.3 L565.9,148.4 L565.5,148.5 L565.4,148.5 L564.9,148.6 L564.4,148.7 L563.9,148.9 L563.4,149.0 L562.9,149.1 L562.4,149.2 L561.9,149.4 L561.4,149.5 L560.9,149.6 L560.4,149.7 L559.9,149.9 L559.4,150.0 L558.9,150.1 L558.6,150.2 L558.4,150.2 L557.9,150.4 L557.4,150.5 L556.9,150.6 L556.4,150.7 L555.9,150.9 L555.4,151.0 L555.2,151.0 L554.9,151.1 L554.4,151.2 L553.9,151.3 L553.4,151.4 L552.9,151.5 L552.4,151.6 L551.9,151.7 L551.4,151.9 L551.0,151.9 L550.9,152.0 L550.4,152.1 L549.9,152.2 L549.4,152.3 L548.9,152.4 L548.4,152.5 L547.9,152.6 L547.4,152.7 L546.9,152.8 L546.7,152.9 Z" fill="#ae4052" fill-opacity="0.1" stroke="none"/></g>
<g id="fillR"><path d="M852.8,585.4 L853.3,585.4 L853.8,585.3 L854.3,585.3 L854.8,585.2 L855.3,585.2 L855.8,585.1 L856.3,585.1 L856.8,585.0 L857.3,585.0 L857.8,584.9 L858.3,584.9 L858.8,584.8 L859.3,584.7 L859.8,584.7 L860.3,584.6 L860.8,584.6 L861.3,584.5 L861.8,584.5 L862.3,584.4 L862.8,584.4 L863.3,584.3 L863.8,584.3 L863.9,584.3 L864.3,583.5 L864.8,582.6 L865.3,581.7 L865.6,581.2 L865.8,581.0 L866.3,580.5 L866.8,580.1 L867.3,579.6 L867.8,579.2 L868.3,578.7 L868.8,578.3 L869.3,577.8 L869.8,577.4 L870.3,576.9 L870.7,576.6 L870.8,576.4 L871.3,575.7 L871.8,575.0 L872.3,574.3 L872.8,573.6 L873.3,572.8 L873.8,572.1 L874.3,571.4 L874.8,570.7 L874.9,570.5 L875.3,570.2 L875.8,569.9 L876.3,569.6 L876.8,569.3 L877.3,569.0 L877.8,568.7 L878.3,568.4 L878.4,568.4 L878.8,568.0 L879.3,567.6 L879.8,567.2 L880.3,566.7 L880.8,566.3 L881.3,565.9 L881.8,565.4 L882.3,565.0 L882.3,565.0 L882.8,564.8 L883.3,564.7 L883.8,564.5 L884.3,564.4 L884.8,564.2 L885.3,564.0 L885.8,563.9 L886.0,563.8 L886.3,563.7 L886.8,563.5 L887.3,563.2 L887.8,563.0 L888.3,562.8 L888.8,562.6 L889.3,562.4 L889.8,562.1 L890.3,561.9 L890.8,561.7 L891.3,561.6 L891.8,561.4 L892.3,561.2 L892.8,561.0 L893.3,560.8 L893.8,560.7 L894.3,560.5 L894.5,560.4 L894.8,560.3 L895.3,560.0 L895.8,559.7 L896.3,559.4 L896.8,559.1 L897.3,558.8 L897.8,558.5 L898.3,558.2 L898.8,557.9 L898.8,557.8 L899.3,557.6 L899.8,557.3 L900.3,557.1 L900.8,556.8 L901.3,556.5 L901.8,556.3 L902.3,556.0 L902.8,555.8 L903.1,555.6 L903.3,555.5 L903.8,555.3 L904.3,555.1 L904.8,555.0 L905.3,554.8 L905.8,554.6 L906.1,554.4 L906.3,554.2 L906.8,553.6 L907.3,552.9 L907.8,552.3 L907.8,552.2 L908.3,552.0 L908.8,551.8 L909.3,551.5 L909.8,551.3 L910.3,551.1 L910.8,550.8 L911.3,550.6 L911.8,550.4 L912.3,550.1 L912.8,549.9 L913.3,549.7 L913.8,549.4 L914.3,549.2 L914.8,549.0 L915.3,548.7 L915.8,548.5 L915.9,548.5 L916.3,547.4 L916.8,546.1 L917.3,544.8 L917.8,543.6 L918.3,542.3 L918.4,542.0 L918.8,541.7 L919.3,541.3 L919.8,540.9 L920.1,540.6 L920.3,540.5 L920.8,540.3 L921.3,540.1 L921.8,539.9 L922.3,539.6 L922.8,539.4 L923.3,539.2 L923.5,539.1 L923.8,538.1 L924.3,536.2 L924.8,534.3 L925.2,532.6 L925.3,532.4 L925.8,530.8 L926.3,529.1 L926.8,527.4 L927.3,525.8 L927.3,525.8 L927.8,524.4 L928.3,523.1 L928.8,521.8 L929.3,520.4 L929.8,519.1 L929.8,519.0 L930.3,512.9 L930.3,512.1 L930.8,509.7 L931.3,507.0 L931.8,504.2 L932.0,502.8 L932.3,502.2 L932.8,500.9 L933.3,499.7 L933.7,498.5 L933.8,498.4 L934.3,496.4 L934.8,494.4 L935.1,493.1 L935.3,492.4 L935.5,491.6 L935.8,491.1 L936.3,490.3 L936.3,490.2 L936.8,489.4 L937.3,488.6 L937.5,488.2 L937.5,488.2 L937.8,487.7 L938.3,486.7 L938.8,485.7 L938.9,485.5 L939.3,484.7 L939.8,483.7 L940.2,482.8 L940.3,482.7 L940.8,481.7 L940.9,481.4 L941.3,479.1 L941.8,476.0 L942.3,472.9 L942.3,472.8 L942.8,468.9 L943.3,465.0 L943.5,463.5 L943.8,463.2 L944.0,463.1 L944.3,462.8 L944.8,462.4 L945.3,461.9 L945.7,461.6 L945.8,461.5 L946.3,461.0 L946.8,460.6 L947.0,460.4 L947.3,460.2 L947.7,459.8 L947.8,459.7 L948.3,458.9 L948.8,458.0 L949.3,457.2 L949.8,456.4 L950.3,455.6 L950.8,454.7 L951.1,454.1 L951.3,454.0 L951.8,453.5 L952.0,453.3 L952.3,453.0 L952.8,452.5 L953.3,452.0 L953.7,451.6 L953.7,449.9 L953.3,452.3 L952.8,455.3 L952.3,458.3 L952.0,460.1 L951.8,461.3 L951.3,464.3 L951.1,465.2 L950.8,467.3 L950.3,470.3 L949.8,472.3 L949.3,474.3 L948.8,476.3 L948.3,478.3 L947.8,480.3 L947.7,480.6 L947.3,486.7 L947.0,490.0 L946.8,491.9 L946.3,495.7 L945.8,499.4 L945.7,500.2 L945.3,503.0 L944.8,506.5 L944.3,510.0 L944.0,512.2 L943.8,513.5 L943.5,515.7 L943.3,517.0 L942.8,520.5 L942.3,524.0 L942.3,524.1 L941.8,526.9 L941.3,529.8 L940.9,532.0 L940.8,532.8 L940.3,535.7 L940.2,536.0 L939.8,538.8 L939.3,541.9 L938.9,544.5 L938.8,545.3 L938.3,550.3 L937.8,555.3 L937.5,558.1 L937.5,558.2 L937.3,560.6 L936.8,566.3 L936.3,571.8 L936.3,572.0 L935.8,576.3 L935.5,579.1 L935.3,580.6 L935.1,582.0 L934.8,583.5 L934.3,585.7 L933.8,587.9 L933.7,588.0 L933.3,588.7 L932.8,589.5 L932.3,590.2 L932.0,590.6 L931.8,591.0 L931.3,591.7 L930.8,592.5 L930.3,593.1 L930.3,593.2 L929.8,593.5 L929.8,593.6 L929.3,594.0 L928.8,594.4 L928.3,594.8 L927.8,595.2 L927.3,595.7 L927.3,595.7 L926.8,595.1 L926.3,595.1 L925.8,595.1 L925.3,595.1 L925.2,595.1 L924.8,595.1 L924.3,595.1 L923.8,595.1 L923.5,595.1 L923.3,595.1 L922.8,595.1 L922.3,595.1 L921.8,595.1 L921.3,595.1 L920.8,595.1 L920.3,595.1 L920.1,595.1 L919.8,595.1 L919.3,595.1 L918.8,595.1 L918.4,595.1 L918.3,595.1 L917.8,595.1 L917.3,595.1 L916.8,595.1 L916.3,595.1 L915.9,595.1 L915.8,595.1 L915.3,595.1 L914.8,595.1 L914.3,595.1 L913.8,595.1 L913.3,595.1 L912.8,595.1 L912.3,595.1 L911.8,595.1 L911.3,595.1 L910.8,595.1 L910.3,595.1 L909.8,595.1 L909.3,595.1 L908.8,595.1 L908.3,595.1 L907.8,595.1 L907.8,595.1 L907.3,595.1 L906.8,595.1 L906.3,595.1 L906.1,595.1 L905.8,595.1 L905.3,595.1 L904.8,595.1 L904.3,595.1 L903.8,595.1 L903.3,595.1 L903.1,595.1 L902.8,595.1 L902.3,595.1 L901.8,595.1 L901.3,595.1 L900.8,595.1 L900.3,595.1 L899.8,595.1 L899.3,595.1 L898.8,595.1 L898.8,595.1 L898.3,595.1 L897.8,595.1 L897.3,595.1 L896.8,595.1 L896.3,595.1 L895.8,595.1 L895.3,595.1 L894.8,595.1 L894.5,595.1 L894.3,595.1 L893.8,595.1 L893.3,595.1 L892.8,595.1 L892.3,595.1 L891.8,595.1 L891.3,595.1 L890.8,595.1 L890.3,595.1 L889.8,595.1 L889.3,595.1 L888.8,595.1 L888.3,595.1 L887.8,595.1 L887.3,595.1 L886.8,595.1 L886.3,595.1 L886.0,595.1 L885.8,595.1 L885.3,595.1 L884.8,595.1 L884.3,595.1 L883.8,595.1 L883.3,595.1 L882.8,595.1 L882.3,595.1 L882.3,595.1 L881.8,595.1 L881.3,595.1 L880.8,595.1 L880.3,595.1 L879.8,595.1 L879.3,595.1 L878.8,595.1 L878.4,595.1 L878.3,595.1 L877.8,595.1 L877.3,595.1 L876.8,595.1 L876.3,595.1 L875.8,595.1 L875.3,595.1 L874.9,595.1 L874.8,595.1 L874.3,595.1 L873.8,595.1 L873.3,595.1 L872.8,595.1 L872.3,595.1 L871.8,595.1 L871.3,595.1 L870.8,595.1 L870.7,595.1 L870.3,595.1 L869.8,595.1 L869.3,595.1 L868.8,595.1 L868.3,595.1 L867.8,595.1 L867.3,595.1 L866.8,595.1 L866.3,595.1 L865.8,595.1 L865.6,595.1 L865.3,595.1 L864.8,595.1 L864.3,595.1 L863.9,595.1 L863.8,595.1 L863.3,595.1 L862.8,595.1 L862.3,595.1 L861.8,595.1 L861.3,595.1 L860.8,595.1 L860.3,595.1 L859.8,595.1 L859.3,595.1 L858.8,595.1 L858.3,595.1 L857.8,595.1 L857.3,595.1 L856.8,595.1 L856.3,595.1 L855.8,595.1 L855.3,595.1 L854.8,595.1 L854.3,595.1 L853.8,595.1 L853.3,595.1 L852.8,595.1 Z" fill="#ae4052" fill-opacity="0.1" stroke="none"/>
<path d="M953.7,451.6 L953.8,451.5 L954.3,451.0 L954.5,450.7 L954.8,450.6 L955.3,450.3 L955.4,450.2 L955.8,450.0 L956.3,449.7 L956.8,449.4 L957.3,449.1 L957.8,448.8 L958.0,448.7 L958.3,448.5 L958.8,448.2 L958.8,448.2 L959.3,442.5 L959.7,437.9 L959.8,437.8 L960.3,437.1 L960.5,436.8 L960.8,436.5 L961.3,435.8 L961.8,435.1 L962.2,434.5 L962.3,434.5 L962.8,434.0 L963.1,433.7 L963.3,433.5 L963.8,433.0 L963.9,432.8 L964.3,432.5 L964.4,432.3 L964.8,432.0 L965.1,431.6 L965.3,431.5 L965.8,431.0 L965.8,431.0 L966.3,430.5 L966.8,430.0 L967.3,429.5 L967.3,429.4 L967.8,428.9 L968.3,428.3 L968.4,428.2 L968.8,427.7 L969.3,427.1 L969.8,426.5 L970.3,425.9 L970.8,425.3 L971.3,424.7 L971.6,424.3 L971.8,423.9 L971.8,423.8 L972.3,422.6 L972.8,421.3 L973.3,420.1 L973.6,419.2 L973.8,418.8 L974.3,417.3 L974.8,415.8 L975.3,414.3 L975.3,414.1 L975.8,413.2 L976.0,412.8 L976.3,412.3 L976.8,411.3 L977.3,410.3 L977.8,409.3 L978.3,408.4 L978.4,408.1 L978.8,407.8 L979.3,407.4 L979.8,407.0 L980.3,406.6 L980.8,406.2 L981.1,405.9 L981.3,405.8 L981.8,405.4 L982.3,405.0 L982.7,404.7 L982.8,404.6 L983.3,404.3 L983.8,404.0 L984.3,403.7 L984.5,403.5 L984.8,403.4 L985.3,403.1 L985.8,402.8 L986.3,402.4 L986.8,402.1 L987.1,401.9 L987.3,401.8 L987.3,401.8 L987.8,400.3 L988.3,398.9 L988.6,397.9 L988.8,397.7 L989.3,397.2 L989.8,396.6 L990.3,396.0 L990.5,395.7 L990.8,395.4 L991.3,394.9 L991.8,394.3 L992.0,394.0 L992.3,393.8 L992.8,393.3 L993.3,392.9 L993.8,392.5 L994.3,392.1 L994.8,391.6 L995.3,391.2 L995.5,391.1 L995.8,390.7 L996.3,390.0 L996.5,389.8 L996.8,389.4 L997.3,388.8 L997.8,388.2 L998.3,387.5 L998.8,386.9 L998.9,386.8 L999.3,386.1 L999.8,385.3 L1000.3,384.5 L1000.8,383.7 L1001.3,382.9 L1001.8,382.1 L1002.3,381.4 L1002.3,381.3 L1002.8,379.4 L1003.3,377.5 L1003.3,377.5 L1003.8,375.1 L1004.3,372.6 L1004.8,370.1 L1005.0,369.0 L1005.3,368.5 L1005.8,367.7 L1006.3,366.8 L1006.8,366.0 L1007.3,365.2 L1007.8,364.3 L1008.3,363.5 L1008.8,362.7 L1009.3,361.8 L1009.8,361.0 L1010.1,360.4 L1010.3,360.0 L1010.8,358.8 L1011.3,357.5 L1011.8,356.3 L1012.3,355.0 L1012.8,353.8 L1013.3,352.5 L1013.5,351.9 L1013.8,349.8 L1014.3,345.8 L1014.4,345.1 L1014.8,344.5 L1015.3,343.7 L1015.8,342.9 L1016.3,342.1 L1016.8,341.3 L1017.3,340.5 L1017.8,339.7 L1018.3,338.9 L1018.6,338.3 L1018.8,337.7 L1019.3,335.7 L1019.8,333.7 L1020.3,331.7 L1020.3,331.5 L1020.8,330.6 L1021.3,329.6 L1021.8,328.6 L1022.3,327.6 L1022.8,326.6 L1023.3,325.6 L1023.7,324.7 L1023.8,324.6 L1024.3,323.6 L1024.8,322.6 L1025.3,321.6 L1025.8,320.6 L1026.3,319.6 L1026.8,318.6 L1027.3,317.6 L1027.8,316.6 L1028.3,315.6 L1028.8,314.6 L1028.9,314.4 L1029.3,313.6 L1029.8,312.6 L1030.3,311.6 L1030.8,310.6 L1031.3,309.6 L1031.4,309.3 L1031.8,308.6 L1032.3,307.6 L1032.8,306.6 L1033.3,305.6 L1033.8,304.6 L1034.0,304.2 L1034.3,303.7 L1034.8,302.9 L1035.3,302.0 L1035.8,301.2 L1036.3,300.4 L1036.8,299.5 L1037.3,298.7 L1037.8,297.9 L1038.3,297.0 L1038.8,296.2 L1039.1,295.7 L1039.3,295.4 L1039.3,295.5 L1039.1,295.7 L1038.8,295.8 L1038.3,296.1 L1037.8,296.4 L1037.3,296.7 L1036.8,297.0 L1036.3,297.2 L1035.8,297.5 L1035.3,297.8 L1034.8,298.1 L1034.3,298.3 L1034.0,298.5 L1033.8,298.6 L1033.3,298.9 L1032.8,299.2 L1032.3,299.5 L1031.8,299.7 L1031.4,299.9 L1031.3,300.0 L1030.8,300.4 L1030.3,300.7 L1029.8,301.0 L1029.3,301.4 L1028.9,301.6 L1028.8,301.7 L1028.3,302.0 L1027.8,302.4 L1027.3,302.7 L1026.8,303.0 L1026.3,303.4 L1025.8,303.7 L1025.3,304.0 L1024.8,304.4 L1024.3,304.7 L1023.8,305.0 L1023.7,305.1 L1023.3,305.4 L1022.8,305.9 L1022.3,306.3 L1021.8,306.7 L1021.3,307.1 L1020.8,307.5 L1020.3,307.9 L1020.3,307.9 L1019.8,308.4 L1019.3,308.8 L1018.8,309.2 L1018.6,309.3 L1018.3,309.5 L1017.8,309.7 L1017.3,310.0 L1016.8,310.2 L1016.3,310.5 L1015.8,310.7 L1015.3,311.0 L1014.8,311.2 L1014.4,311.4 L1014.3,311.5 L1013.8,311.7 L1013.5,311.9 L1013.3,312.0 L1012.8,312.2 L1012.3,312.5 L1011.8,312.7 L1011.3,313.0 L1010.8,313.2 L1010.3,313.5 L1010.1,313.6 L1009.8,313.7 L1009.3,314.0 L1008.8,314.2 L1008.3,314.5 L1007.8,314.7 L1007.3,315.0 L1006.8,315.2 L1006.3,315.5 L1005.8,315.7 L1005.3,316.0 L1005.0,316.1 L1004.8,316.2 L1004.3,316.5 L1003.8,316.7 L1003.3,317.0 L1003.3,317.0 L1002.8,317.4 L1002.3,317.7 L1002.3,317.8 L1001.8,318.1 L1001.3,318.5 L1000.8,318.9 L1000.3,319.2 L999.8,319.6 L999.3,320.0 L998.9,320.3 L998.8,320.4 L998.3,320.7 L997.8,321.1 L997.3,321.5 L996.8,321.9 L996.5,322.1 L996.3,322.3 L995.8,322.8 L995.5,323.1 L995.3,323.3 L994.8,323.8 L994.3,324.3 L993.8,324.8 L993.3,325.3 L992.8,325.8 L992.3,326.3 L992.0,326.5 L991.8,326.8 L991.3,327.3 L990.8,327.8 L990.5,328.1 L990.3,328.3 L989.8,329.0 L989.3,329.6 L988.8,330.2 L988.6,330.4 L988.3,330.8 L987.8,331.5 L987.3,332.1 L987.3,332.1 L987.1,332.3 L986.8,332.9 L986.3,333.7 L985.8,334.5 L985.3,335.4 L984.8,336.2 L984.5,336.6 L984.3,336.9 L983.8,337.5 L983.3,338.2 L982.8,338.8 L982.7,338.9 L982.3,339.4 L981.8,340.0 L981.3,340.7 L981.1,340.9 L980.8,341.4 L980.3,342.1 L979.8,342.9 L979.3,343.6 L978.8,344.4 L978.4,344.9 L978.3,345.1 L977.8,345.9 L977.3,346.6 L976.8,347.4 L976.3,348.1 L976.0,348.5 L975.8,349.0 L975.3,349.9 L975.3,350.0 L974.8,351.0 L974.3,352.0 L973.8,353.0 L973.6,353.3 L973.3,354.0 L972.8,355.0 L972.3,356.0 L971.8,357.0 L971.8,357.0 L971.6,357.5 L971.3,358.2 L970.8,359.5 L970.3,360.7 L969.8,362.0 L969.3,363.2 L968.8,364.5 L968.4,365.6 L968.3,365.8 L967.8,367.5 L967.3,369.0 L967.3,369.1 L966.8,370.8 L966.3,372.5 L965.8,374.1 L965.8,374.2 L965.3,378.5 L965.1,380.0 L964.8,386.6 L964.4,393.6 L964.3,396.6 L963.9,403.8 L963.8,405.0 L963.3,409.0 L963.1,410.7 L962.8,411.8 L962.3,413.8 L962.2,414.1 L961.8,415.8 L961.3,417.8 L960.8,419.8 L960.5,420.9 L960.3,421.8 L959.8,423.8 L959.7,424.3 L959.3,425.8 L958.8,427.7 L958.8,427.8 L958.3,429.8 L958.0,431.1 L957.8,431.8 L957.3,433.6 L956.8,435.4 L956.3,437.3 L955.8,439.1 L955.4,440.5 L955.3,441.1 L954.8,443.9 L954.5,445.2 L954.3,446.6 L953.8,449.4 L953.7,449.9 Z" fill="#5e90ca" fill-opacity="0.1" stroke="none"/>
<path d="M1039.3,295.4 L1039.8,294.6 L1040.3,293.9 L1040.8,293.1 L1041.3,292.4 L1041.8,291.6 L1042.3,290.9 L1042.8,290.1 L1043.3,289.4 L1043.8,288.6 L1044.2,288.0 L1044.3,287.9 L1044.8,287.2 L1045.3,286.6 L1045.8,285.9 L1045.9,285.7 L1046.3,285.2 L1046.8,284.6 L1047.3,283.9 L1047.8,283.2 L1048.3,282.6 L1048.8,281.9 L1049.3,281.2 L1049.3,281.2 L1049.8,280.6 L1050.3,279.9 L1050.8,279.2 L1051.0,278.9 L1051.3,278.6 L1051.8,277.9 L1052.3,277.2 L1052.8,276.6 L1053.3,275.9 L1053.8,275.2 L1054.3,274.6 L1054.4,274.4 L1054.8,273.9 L1055.3,273.3 L1055.8,272.7 L1056.3,272.1 L1056.8,271.4 L1057.3,270.8 L1057.8,270.2 L1057.8,270.1 L1058.3,269.6 L1058.8,269.0 L1059.3,268.4 L1059.8,267.8 L1060.3,267.2 L1060.8,266.6 L1061.3,266.0 L1061.8,265.4 L1062.1,265.0 L1062.3,264.6 L1062.8,263.6 L1063.3,262.6 L1063.8,261.6 L1063.9,261.4 L1064.3,260.8 L1064.8,260.1 L1065.3,259.4 L1065.8,258.7 L1066.3,258.0 L1066.4,257.9 L1066.8,257.3 L1067.3,256.6 L1067.8,255.9 L1068.3,255.2 L1068.8,254.5 L1069.3,253.8 L1069.8,253.1 L1070.3,252.4 L1070.8,251.7 L1071.3,251.0 L1071.8,250.3 L1072.3,249.6 L1072.4,249.5 L1072.8,248.7 L1073.3,247.7 L1073.8,246.7 L1074.3,245.7 L1074.8,244.7 L1075.3,243.7 L1075.8,242.7 L1076.3,241.7 L1076.7,241.0 L1076.8,240.8 L1077.3,240.0 L1077.8,239.3 L1078.3,238.5 L1078.3,238.5 L1078.8,237.8 L1079.3,237.0 L1079.8,236.3 L1080.3,235.5 L1080.8,234.8 L1081.3,234.0 L1081.8,233.3 L1081.8,233.3 L1082.3,232.9 L1082.8,232.5 L1083.3,232.1 L1083.8,231.7 L1084.3,231.3 L1084.8,230.9 L1085.1,230.6 L1085.3,230.5 L1085.8,230.1 L1086.0,229.9 L1086.3,229.4 L1086.8,228.6 L1087.3,227.8 L1087.8,226.9 L1088.3,226.1 L1088.6,225.6 L1088.8,225.4 L1089.3,224.9 L1089.8,224.4 L1090.3,223.9 L1090.8,223.4 L1091.3,222.9 L1091.8,222.4 L1092.3,221.9 L1092.8,221.4 L1093.3,220.9 L1093.6,220.6 L1093.8,220.4 L1094.3,219.9 L1094.5,219.7 L1094.8,219.5 L1095.3,219.2 L1095.8,218.9 L1096.3,218.5 L1096.8,218.2 L1097.3,217.9 L1097.8,217.6 L1098.3,217.3 L1098.8,217.0 L1099.3,216.6 L1099.8,216.3 L1100.3,216.0 L1100.8,215.7 L1101.3,215.4 L1101.4,215.3 L1101.8,215.0 L1102.3,214.7 L1102.8,214.4 L1103.3,214.1 L1103.8,213.8 L1103.9,213.7 L1104.3,213.0 L1104.8,212.0 L1105.3,211.0 L1105.8,210.0 L1106.3,209.0 L1106.5,208.6 L1106.8,208.2 L1107.3,207.6 L1107.8,207.0 L1108.3,206.4 L1108.8,205.8 L1109.3,205.2 L1109.8,204.6 L1110.3,204.0 L1110.7,203.5 L1110.8,203.4 L1111.3,202.8 L1111.6,202.4 L1111.8,202.2 L1112.3,201.6 L1112.8,201.0 L1113.3,200.4 L1113.8,199.8 L1114.3,199.2 L1114.8,198.6 L1115.0,198.3 L1115.3,198.1 L1115.8,197.7 L1116.3,197.3 L1116.8,196.9 L1117.3,196.5 L1117.8,196.1 L1118.3,195.7 L1118.8,195.3 L1119.3,194.9 L1119.8,194.5 L1120.3,194.1 L1120.8,193.7 L1121.3,193.3 L1121.8,192.9 L1122.3,192.5 L1122.8,192.1 L1123.3,191.7 L1123.5,191.5 L1123.8,191.4 L1124.3,191.2 L1124.8,190.9 L1125.2,190.7 L1125.3,190.7 L1125.8,190.4 L1126.3,190.2 L1126.8,189.9 L1127.3,189.7 L1127.8,189.4 L1128.3,189.2 L1128.8,188.9 L1129.3,188.7 L1129.8,188.4 L1130.3,188.2 L1130.8,187.9 L1131.3,187.7 L1131.8,187.4 L1132.0,187.3 L1132.3,187.1 L1132.8,186.8 L1133.3,186.5 L1133.8,186.2 L1134.3,185.9 L1134.8,185.6 L1135.3,185.3 L1135.8,185.0 L1136.3,184.7 L1136.8,184.4 L1137.3,184.1 L1137.8,183.8 L1138.3,183.5 L1138.8,183.2 L1138.9,183.2 L1139.3,182.9 L1139.8,182.6 L1140.3,182.3 L1140.6,182.2 L1140.8,182.0 L1141.3,181.6 L1141.8,181.2 L1142.3,180.9 L1142.8,180.5 L1143.3,180.1 L1143.8,179.7 L1144.0,179.6 L1144.3,179.5 L1144.8,179.3 L1145.3,179.1 L1145.8,178.9 L1146.3,178.7 L1146.8,178.5 L1147.3,178.3 L1147.8,178.1 L1148.3,177.9 L1148.8,177.7 L1149.1,177.6 L1149.3,177.5 L1149.8,177.3 L1150.3,177.1 L1150.8,176.9 L1151.3,176.7 L1151.8,176.5 L1152.3,176.3 L1152.5,176.2 L1152.8,176.0 L1153.3,175.7 L1153.8,175.4 L1154.3,175.1 L1154.8,174.8 L1155.3,174.5 L1155.8,174.1 L1156.3,173.8 L1156.8,173.5 L1157.3,173.2 L1157.8,172.9 L1158.3,172.6 L1158.8,172.3 L1159.3,172.0 L1159.3,171.9 L1159.8,171.6 L1160.3,171.3 L1160.8,171.0 L1161.3,170.7 L1161.8,170.4 L1162.3,170.1 L1162.7,169.9 L1162.8,169.9 L1163.3,169.7 L1163.8,169.6 L1164.3,169.4 L1164.8,169.3 L1165.3,169.1 L1165.8,169.0 L1166.3,168.9 L1166.8,168.7 L1167.3,168.6 L1167.8,168.4 L1168.3,168.3 L1168.8,168.1 L1169.3,168.0 L1169.8,167.9 L1170.3,167.7 L1170.8,167.6 L1171.2,167.4 L1171.3,167.4 L1171.8,167.3 L1172.3,167.1 L1172.8,167.0 L1173.3,166.8 L1173.8,166.7 L1174.3,166.6 L1174.8,166.4 L1175.3,166.3 L1175.8,166.1 L1176.3,166.0 L1176.4,166.0 L1176.8,165.8 L1177.3,165.7 L1177.8,165.5 L1178.1,165.4 L1178.3,165.3 L1178.8,165.1 L1179.3,165.0 L1179.8,164.8 L1180.3,164.6 L1180.8,164.5 L1181.3,164.3 L1181.8,164.1 L1182.3,164.0 L1182.8,163.8 L1183.3,163.6 L1183.8,163.4 L1184.0,163.4 L1184.3,163.3 L1184.8,163.1 L1184.9,163.1 L1185.3,162.9 L1185.7,162.6 L1185.8,162.6 L1186.3,162.3 L1186.8,162.1 L1187.3,161.8 L1187.8,161.6 L1188.3,161.3 L1188.8,161.0 L1189.1,160.9 L1189.3,160.6 L1189.8,159.5 L1190.3,158.5 L1190.8,157.5 L1191.3,156.5 L1191.8,155.5 L1192.3,154.4 L1192.8,153.4 L1193.0,153.0 L1193.3,152.7 L1193.4,152.6 L1193.8,152.3 L1194.3,151.8 L1194.8,151.4 L1195.3,151.0 L1195.8,150.5 L1196.3,150.1 L1196.8,149.7 L1197.3,149.2 L1197.8,148.8 L1198.3,148.3 L1198.8,147.9 L1199.3,147.5 L1199.8,147.0 L1199.8,147.0 L1200.3,146.2 L1200.8,145.3 L1201.3,144.4 L1201.8,143.5 L1202.3,142.6 L1202.4,142.4 L1202.8,142.2 L1203.3,141.9 L1203.6,141.8 L1203.8,141.7 L1204.3,141.4 L1204.8,141.2 L1205.3,140.9 L1205.8,140.7 L1206.3,140.4 L1206.8,140.2 L1207.3,139.9 L1207.8,139.7 L1208.3,139.4 L1208.8,139.2 L1209.2,139.0 L1209.3,139.0 L1209.8,138.8 L1210.3,138.7 L1210.8,138.6 L1211.3,138.4 L1211.8,138.3 L1212.2,138.2 L1212.3,138.2 L1212.8,138.0 L1213.3,137.9 L1213.8,137.8 L1214.3,137.7 L1214.8,137.5 L1215.3,137.4 L1215.8,137.3 L1216.3,137.1 L1216.8,137.0 L1217.3,136.9 L1217.7,136.8 L1217.8,136.7 L1218.3,136.6 L1218.8,136.4 L1219.3,136.3 L1219.8,136.1 L1220.3,135.9 L1220.8,135.8 L1221.1,135.7 L1221.3,135.6 L1221.8,135.4 L1222.3,135.3 L1222.8,135.1 L1223.3,135.0 L1223.8,134.8 L1224.3,134.6 L1224.5,134.5 L1224.8,134.4 L1225.3,134.2 L1225.8,133.9 L1226.3,133.7 L1226.8,133.5 L1227.3,133.2 L1227.8,133.0 L1228.3,132.7 L1228.8,132.5 L1228.8,132.5 L1229.3,132.4 L1229.7,132.3 L1229.8,132.2 L1230.3,132.1 L1230.8,132.0 L1231.3,131.8 L1231.8,131.7 L1232.3,131.5 L1232.8,131.4 L1233.3,131.3 L1233.8,131.1 L1234.3,131.0 L1234.8,130.9 L1235.3,130.7 L1235.8,130.6 L1236.3,130.5 L1236.8,130.3 L1237.3,130.2 L1237.8,130.0 L1238.2,129.9 L1238.3,129.9 L1238.8,129.8 L1239.3,129.6 L1239.8,129.5 L1240.3,129.3 L1240.8,129.2 L1241.3,129.0 L1241.8,128.9 L1242.3,128.7 L1242.8,128.6 L1243.3,128.4 L1243.8,128.3 L1244.3,128.1 L1244.8,128.0 L1245.0,127.9 L1245.3,127.8 L1245.8,127.7 L1246.3,127.5 L1246.7,127.4 L1246.8,127.4 L1247.3,127.2 L1247.5,127.2 L1247.8,127.1 L1248.3,127.0 L1248.8,126.9 L1249.3,126.7 L1249.8,126.6 L1250.3,126.5 L1250.8,126.4 L1251.3,126.2 L1251.8,126.1 L1252.3,126.0 L1252.8,125.9 L1253.3,125.7 L1253.5,125.7 L1253.8,125.5 L1254.3,125.2 L1254.8,124.8 L1255.3,124.5 L1255.8,124.2 L1256.3,123.8 L1256.8,123.5 L1257.3,123.2 L1257.8,122.8 L1258.3,122.5 L1258.6,122.3 L1258.8,122.3 L1259.3,122.2 L1259.8,122.2 L1260.3,122.1 L1260.8,122.1 L1261.3,122.0 L1261.8,122.0 L1262.3,121.9 L1262.8,121.9 L1263.3,121.8 L1263.4,121.8 L1263.8,121.8 L1264.3,121.7 L1264.8,121.7 L1265.3,121.6 L1265.8,121.6 L1266.3,121.5 L1266.8,121.5 L1267.2,121.4 L1267.3,121.4 L1267.8,121.3 L1268.3,121.2 L1268.8,121.1 L1268.9,121.1 L1269.3,121.0 L1269.8,120.9 L1270.3,120.8 L1270.8,120.7 L1271.3,120.6 L1271.8,120.5 L1272.3,120.4 L1272.8,120.3 L1273.3,120.2 L1273.8,120.1 L1274.3,120.0 L1274.8,119.9 L1275.3,119.8 L1275.7,119.7 L1275.8,119.7 L1276.3,119.6 L1276.8,119.5 L1277.3,119.4 L1277.8,119.2 L1278.3,119.1 L1278.8,119.0 L1279.3,118.9 L1279.8,118.8 L1280.3,118.7 L1280.8,118.6 L1281.3,118.5 L1281.8,118.3 L1282.3,118.2 L1282.5,118.2 L1282.8,118.1 L1283.3,118.0 L1283.8,117.9 L1284.3,117.8 L1284.8,117.7 L1285.3,117.6 L1285.8,117.4 L1286.3,117.3 L1286.8,117.2 L1287.3,117.1 L1287.8,117.0 L1288.3,116.9 L1288.8,116.8 L1289.3,116.7 L1289.3,116.6 L1289.8,116.6 L1290.3,116.6 L1290.8,116.6 L1291.3,116.5 L1291.8,116.5 L1292.3,116.5 L1292.8,116.4 L1293.3,116.4 L1293.8,116.4 L1294.3,116.3 L1294.8,116.3 L1295.3,116.3 L1295.8,116.3 L1296.3,116.2 L1296.8,116.2 L1297.3,116.2 L1297.8,116.1 L1297.8,116.1 L1298.0,116.1 L1298.3,116.1 L1298.8,116.1 L1299.3,116.1 L1299.8,116.1 L1300.3,116.0 L1300.8,116.0 L1301.3,116.0 L1301.8,116.0 L1302.3,116.0 L1302.8,115.9 L1303.3,115.9 L1303.8,115.9 L1304.3,115.9 L1304.8,115.9 L1305.3,115.8 L1305.8,115.8 L1305.9,115.8 L1306.3,115.8 L1306.4,115.8 L1306.8,115.4 L1307.0,115.2 L1307.3,115.2 L1307.6,115.1 L1307.8,115.1 L1308.3,115.1 L1308.8,115.0 L1309.3,114.9 L1309.8,114.8 L1310.3,114.8 L1310.8,114.7 L1311.3,114.6 L1311.8,114.6 L1312.3,114.5 L1312.7,114.4 L1312.8,114.4 L1313.3,114.3 L1313.8,114.3 L1314.3,114.2 L1314.8,114.1 L1315.0,114.1 L1315.3,114.1 L1315.8,114.1 L1316.3,114.1 L1316.8,114.1 L1317.3,114.1 L1317.8,114.1 L1318.3,114.1 L1318.8,114.1 L1319.3,114.1 L1319.8,114.1 L1320.3,114.1 L1320.8,114.1 L1321.3,114.1 L1321.8,114.1 L1322.3,114.1 L1322.8,114.1 L1323.3,114.1 L1323.8,114.1 L1324.3,114.1 L1324.8,114.1 L1325.3,114.1 L1325.8,114.1 L1326.3,114.1 L1326.8,114.1 L1327.3,114.1 L1327.8,114.1 L1328.3,114.1 L1328.8,114.1 L1329.3,114.1 L1329.8,114.1 L1329.8,114.1 L1330.3,114.1 L1330.8,114.1 L1331.3,114.1 L1331.8,114.1 L1332.3,114.1 L1332.8,114.1 L1333.3,114.1 L1333.8,114.1 L1334.3,114.1 L1334.8,114.1 L1335.3,114.1 L1335.8,114.1 L1336.3,114.1 L1336.8,114.1 L1337.3,114.1 L1337.8,114.1 L1338.3,114.1 L1338.8,114.1 L1339.3,114.1 L1339.8,114.1 L1340.3,114.1 L1340.8,114.1 L1341.3,114.1 L1341.8,114.1 L1342.3,114.1 L1342.3,157.0 L1341.8,157.0 L1341.3,157.0 L1340.8,157.0 L1340.3,157.0 L1339.8,157.0 L1339.3,157.0 L1338.8,157.0 L1338.3,157.0 L1337.8,157.0 L1337.3,157.0 L1336.8,157.0 L1336.3,157.0 L1335.8,157.0 L1335.3,157.0 L1334.8,157.0 L1334.3,157.0 L1333.8,157.0 L1333.3,157.0 L1332.8,157.0 L1332.3,157.0 L1331.8,157.0 L1331.3,157.0 L1330.8,157.0 L1330.3,157.0 L1329.8,157.0 L1329.8,157.0 L1329.3,157.1 L1328.8,157.1 L1328.3,157.2 L1327.8,157.2 L1327.3,157.2 L1326.8,157.3 L1326.3,157.3 L1325.8,157.4 L1325.3,157.4 L1324.8,157.4 L1324.3,157.5 L1323.8,157.5 L1323.3,157.6 L1322.8,157.6 L1322.3,157.6 L1321.8,157.7 L1321.3,157.7 L1320.8,157.8 L1320.3,157.8 L1319.8,157.8 L1319.3,157.9 L1318.8,157.9 L1318.3,158.0 L1317.8,158.0 L1317.3,158.0 L1316.8,158.1 L1316.3,158.1 L1315.8,158.2 L1315.3,158.2 L1315.0,158.2 L1314.8,158.2 L1314.3,158.3 L1313.8,158.3 L1313.3,158.4 L1312.8,158.4 L1312.7,158.4 L1312.3,158.5 L1311.8,158.5 L1311.3,158.6 L1310.8,158.7 L1310.3,158.7 L1309.8,158.8 L1309.3,158.9 L1308.8,158.9 L1308.3,159.0 L1307.8,159.1 L1307.6,159.1 L1307.3,159.6 L1307.0,159.9 L1306.8,160.3 L1306.4,160.9 L1306.3,161.0 L1305.9,161.6 L1305.8,161.6 L1305.3,161.6 L1304.8,161.6 L1304.3,161.6 L1303.8,161.7 L1303.3,161.7 L1302.8,161.7 L1302.3,161.7 L1301.8,161.7 L1301.3,161.7 L1300.8,161.7 L1300.3,161.8 L1299.8,161.8 L1299.3,161.8 L1298.8,161.8 L1298.3,161.8 L1298.0,161.8 L1297.8,161.9 L1297.8,161.9 L1297.3,162.3 L1296.8,162.6 L1296.3,162.9 L1295.8,163.2 L1295.3,163.6 L1294.8,163.9 L1294.3,164.2 L1293.8,164.5 L1293.3,164.9 L1292.8,165.2 L1292.3,165.5 L1291.8,165.8 L1291.3,166.2 L1290.8,166.5 L1290.3,166.8 L1289.8,167.1 L1289.3,167.4 L1289.3,167.5 L1288.8,167.8 L1288.3,168.1 L1287.8,168.4 L1287.3,168.7 L1286.8,169.0 L1286.3,169.3 L1285.8,169.6 L1285.3,170.0 L1284.8,170.3 L1284.3,170.6 L1283.8,170.9 L1283.3,171.2 L1282.8,171.5 L1282.5,171.7 L1282.3,171.8 L1281.8,172.1 L1281.3,172.5 L1280.8,172.8 L1280.3,173.1 L1279.8,173.4 L1279.3,173.7 L1278.8,174.0 L1278.3,174.3 L1277.8,174.6 L1277.3,175.0 L1276.8,175.3 L1276.3,175.6 L1275.8,175.9 L1275.7,176.0 L1275.3,176.3 L1274.8,176.8 L1274.3,177.3 L1273.8,177.7 L1273.3,178.2 L1272.8,178.6 L1272.3,179.1 L1271.8,179.6 L1271.3,180.0 L1270.8,180.5 L1270.3,181.0 L1269.8,181.4 L1269.3,181.9 L1268.9,182.3 L1268.8,182.3 L1268.3,182.9 L1267.8,183.4 L1267.3,183.9 L1267.2,184.0 L1266.8,184.4 L1266.3,184.9 L1265.8,185.4 L1265.3,186.0 L1264.8,186.5 L1264.3,187.0 L1263.8,187.5 L1263.4,187.9 L1263.3,188.0 L1262.8,188.3 L1262.3,188.7 L1261.8,189.1 L1261.3,189.4 L1260.8,189.8 L1260.3,190.1 L1259.8,190.5 L1259.3,190.8 L1258.8,191.2 L1258.6,191.3 L1258.3,191.6 L1257.8,192.0 L1257.3,192.4 L1256.8,192.8 L1256.3,193.3 L1255.8,193.7 L1255.3,194.1 L1254.8,194.5 L1254.3,194.9 L1253.8,195.3 L1253.5,195.6 L1253.3,195.7 L1252.8,196.0 L1252.3,196.3 L1251.8,196.7 L1251.3,197.0 L1250.8,197.3 L1250.3,197.6 L1249.8,197.9 L1249.3,198.2 L1248.8,198.5 L1248.3,198.9 L1247.8,199.2 L1247.5,199.3 L1247.3,199.6 L1246.8,200.2 L1246.7,200.3 L1246.3,200.8 L1245.8,201.4 L1245.3,202.0 L1245.0,202.4 L1244.8,202.5 L1244.3,202.8 L1243.8,203.1 L1243.3,203.5 L1242.8,203.8 L1242.3,204.1 L1241.8,204.4 L1241.3,204.7 L1240.8,205.0 L1240.3,205.3 L1239.8,205.6 L1239.3,206.0 L1238.8,206.3 L1238.3,206.6 L1238.2,206.6 L1237.8,206.8 L1237.3,207.0 L1236.8,207.2 L1236.3,207.4 L1235.8,207.6 L1235.3,207.8 L1234.8,208.0 L1234.3,208.2 L1233.8,208.4 L1233.3,208.6 L1232.8,208.8 L1232.3,209.0 L1231.8,209.2 L1231.3,209.4 L1230.8,209.6 L1230.3,209.8 L1229.8,210.0 L1229.7,210.0 L1229.3,210.2 L1228.8,210.3 L1228.8,210.3 L1228.3,210.5 L1227.8,210.7 L1227.3,210.9 L1226.8,211.0 L1226.3,211.2 L1225.8,211.4 L1225.3,211.5 L1224.8,211.7 L1224.5,211.8 L1224.3,211.9 L1223.8,212.0 L1223.3,212.2 L1222.8,212.4 L1222.3,212.6 L1221.8,212.7 L1221.3,212.9 L1221.1,212.9 L1220.8,213.1 L1220.3,213.3 L1219.8,213.6 L1219.3,213.8 L1218.8,214.0 L1218.3,214.3 L1217.8,214.5 L1217.7,214.5 L1217.3,214.7 L1216.8,215.0 L1216.3,215.2 L1215.8,215.4 L1215.3,215.7 L1214.8,215.9 L1214.3,216.1 L1213.8,216.3 L1213.3,216.6 L1212.8,216.8 L1212.3,217.0 L1212.2,217.1 L1211.8,217.3 L1211.3,217.5 L1210.8,217.7 L1210.3,217.9 L1209.8,218.1 L1209.3,218.4 L1209.2,218.4 L1208.8,218.6 L1208.3,218.8 L1207.8,219.0 L1207.3,219.2 L1206.8,219.5 L1206.3,219.7 L1205.8,219.9 L1205.3,220.1 L1204.8,220.3 L1204.3,220.6 L1203.8,220.8 L1203.6,220.8 L1203.3,221.0 L1202.8,221.2 L1202.4,221.4 L1202.3,221.5 L1201.8,221.7 L1201.3,221.9 L1200.8,222.2 L1200.3,222.4 L1199.8,222.6 L1199.8,222.6 L1199.3,222.9 L1198.8,223.1 L1198.3,223.3 L1197.8,223.6 L1197.3,223.8 L1196.8,224.0 L1196.3,224.3 L1195.8,224.5 L1195.3,224.7 L1194.8,225.0 L1194.3,225.2 L1193.8,225.4 L1193.4,225.6 L1193.3,225.7 L1193.0,225.8 L1192.8,225.9 L1192.3,226.1 L1191.8,226.3 L1191.3,226.6 L1190.8,226.8 L1190.3,227.0 L1189.8,227.2 L1189.3,227.5 L1189.1,227.5 L1188.8,227.7 L1188.3,227.9 L1187.8,228.1 L1187.3,228.3 L1186.8,228.6 L1186.3,228.8 L1185.8,229.0 L1185.7,229.0 L1185.3,229.8 L1184.9,230.5 L1184.8,230.6 L1184.3,231.5 L1184.0,231.9 L1183.8,232.1 L1183.3,232.3 L1182.8,232.6 L1182.3,232.8 L1181.8,233.1 L1181.3,233.3 L1180.8,233.6 L1180.3,233.9 L1179.8,234.1 L1179.3,234.4 L1178.8,234.6 L1178.3,234.9 L1178.1,235.0 L1177.8,235.2 L1177.3,235.6 L1176.8,236.0 L1176.4,236.3 L1176.3,236.3 L1175.8,236.7 L1175.3,237.1 L1174.8,237.5 L1174.3,237.8 L1173.8,238.2 L1173.3,238.6 L1172.8,239.0 L1172.3,239.3 L1171.8,239.7 L1171.3,240.1 L1171.2,240.1 L1170.8,240.3 L1170.3,240.5 L1169.8,240.6 L1169.3,240.8 L1168.8,241.0 L1168.3,241.2 L1167.8,241.3 L1167.3,241.5 L1166.8,241.7 L1166.3,241.9 L1165.8,242.1 L1165.3,242.2 L1164.8,242.4 L1164.3,242.6 L1163.8,242.8 L1163.3,243.0 L1162.8,243.1 L1162.7,243.2 L1162.3,243.3 L1161.8,243.5 L1161.3,243.7 L1160.8,243.8 L1160.3,244.0 L1159.8,244.2 L1159.3,244.4 L1159.3,244.4 L1158.8,244.5 L1158.3,244.7 L1157.8,244.8 L1157.3,244.9 L1156.8,245.1 L1156.3,245.2 L1155.8,245.4 L1155.3,245.5 L1154.8,245.7 L1154.3,245.8 L1153.8,245.9 L1153.3,246.1 L1152.8,246.2 L1152.5,246.3 L1152.3,246.4 L1151.8,246.5 L1151.3,246.6 L1150.8,246.8 L1150.3,246.9 L1149.8,247.1 L1149.3,247.2 L1149.1,247.3 L1148.8,247.4 L1148.3,247.6 L1147.8,247.9 L1147.3,248.1 L1146.8,248.3 L1146.3,248.6 L1145.8,248.8 L1145.3,249.0 L1144.8,249.3 L1144.3,249.5 L1144.0,249.7 L1143.8,249.7 L1143.3,250.0 L1142.8,250.2 L1142.3,250.4 L1141.8,250.7 L1141.3,250.9 L1140.8,251.1 L1140.6,251.2 L1140.3,251.4 L1139.8,251.6 L1139.3,251.8 L1138.9,252.0 L1138.8,252.1 L1138.3,252.2 L1137.8,252.4 L1137.3,252.5 L1136.8,252.7 L1136.3,252.8 L1135.8,253.0 L1135.3,253.2 L1134.8,253.3 L1134.3,253.5 L1133.8,253.6 L1133.3,253.8 L1132.8,253.9 L1132.3,254.1 L1132.0,254.2 L1131.8,254.3 L1131.3,254.4 L1130.8,254.6 L1130.3,254.7 L1129.8,254.9 L1129.3,255.0 L1128.8,255.2 L1128.3,255.3 L1127.8,255.5 L1127.3,255.7 L1126.8,255.8 L1126.3,256.0 L1125.8,256.1 L1125.3,256.3 L1125.2,256.3 L1124.8,256.4 L1124.3,256.6 L1123.8,256.8 L1123.5,256.8 L1123.3,256.9 L1122.8,257.1 L1122.3,257.2 L1121.8,257.4 L1121.3,257.5 L1120.8,257.7 L1120.3,257.8 L1119.8,258.0 L1119.3,258.2 L1118.8,258.3 L1118.3,258.5 L1117.8,258.6 L1117.3,258.8 L1116.8,258.9 L1116.3,259.1 L1115.8,259.3 L1115.3,259.4 L1115.0,259.5 L1114.8,259.6 L1114.3,259.7 L1113.8,259.9 L1113.3,260.0 L1112.8,260.2 L1112.3,260.3 L1111.8,260.5 L1111.6,260.6 L1111.3,260.7 L1110.8,260.9 L1110.7,260.9 L1110.3,261.0 L1109.8,261.2 L1109.3,261.4 L1108.8,261.6 L1108.3,261.8 L1107.8,262.0 L1107.3,262.1 L1106.8,262.3 L1106.5,262.4 L1106.3,262.5 L1105.8,262.7 L1105.3,262.9 L1104.8,263.1 L1104.3,263.2 L1103.9,263.4 L1103.8,263.4 L1103.3,263.6 L1102.8,263.8 L1102.3,264.0 L1101.8,264.2 L1101.4,264.3 L1101.3,264.4 L1100.8,264.6 L1100.3,264.9 L1099.8,265.1 L1099.3,265.4 L1098.8,265.7 L1098.3,265.9 L1097.8,266.2 L1097.3,266.5 L1096.8,266.7 L1096.3,267.0 L1095.8,267.3 L1095.3,267.5 L1094.8,267.8 L1094.5,267.9 L1094.3,268.1 L1093.8,268.3 L1093.6,268.4 L1093.3,268.5 L1092.8,268.7 L1092.3,268.9 L1091.8,269.1 L1091.3,269.3 L1090.8,269.5 L1090.3,269.7 L1089.8,269.9 L1089.3,270.1 L1088.8,270.3 L1088.6,270.4 L1088.3,270.5 L1087.8,270.7 L1087.3,270.9 L1086.8,271.1 L1086.3,271.3 L1086.0,271.5 L1085.8,271.5 L1085.3,271.7 L1085.1,271.8 L1084.8,272.0 L1084.3,272.3 L1083.8,272.5 L1083.3,272.8 L1082.8,273.1 L1082.3,273.4 L1081.8,273.6 L1081.8,273.7 L1081.3,273.9 L1080.8,274.2 L1080.3,274.5 L1079.8,274.7 L1079.3,275.0 L1078.8,275.3 L1078.3,275.6 L1078.3,275.6 L1077.8,275.7 L1077.3,275.9 L1076.8,276.0 L1076.7,276.0 L1076.3,276.1 L1075.8,276.3 L1075.3,276.4 L1074.8,276.6 L1074.3,276.7 L1073.8,276.9 L1073.3,277.0 L1072.8,277.1 L1072.4,277.3 L1072.3,277.3 L1071.8,277.4 L1071.3,277.6 L1070.8,277.7 L1070.3,277.9 L1069.8,278.0 L1069.3,278.1 L1068.8,278.3 L1068.3,278.4 L1067.8,278.6 L1067.3,278.7 L1066.8,278.9 L1066.4,279.0 L1066.3,279.0 L1065.8,279.2 L1065.3,279.4 L1064.8,279.5 L1064.3,279.7 L1063.9,279.9 L1063.8,279.9 L1063.3,280.1 L1062.8,280.3 L1062.3,280.4 L1062.1,280.5 L1061.8,280.6 L1061.3,280.8 L1060.8,281.0 L1060.3,281.2 L1059.8,281.3 L1059.3,281.5 L1058.8,281.7 L1058.3,281.9 L1057.8,282.0 L1057.8,282.1 L1057.3,282.3 L1056.8,282.6 L1056.3,282.8 L1055.8,283.1 L1055.3,283.3 L1054.8,283.6 L1054.4,283.8 L1054.3,283.8 L1053.8,284.1 L1053.3,284.3 L1052.8,284.6 L1052.3,284.8 L1051.8,285.1 L1051.3,285.3 L1051.0,285.5 L1050.8,285.7 L1050.3,286.2 L1049.8,286.7 L1049.3,287.2 L1049.3,287.2 L1048.8,287.7 L1048.3,288.2 L1047.8,288.7 L1047.3,289.2 L1046.8,289.7 L1046.3,290.2 L1045.9,290.6 L1045.8,290.7 L1045.3,291.0 L1044.8,291.4 L1044.3,291.8 L1044.2,291.8 L1043.8,292.2 L1043.3,292.5 L1042.8,292.9 L1042.3,293.3 L1041.8,293.7 L1041.3,294.0 L1040.8,294.4 L1040.3,294.8 L1039.8,295.2 L1039.3,295.5 Z" fill="#ae4052" fill-opacity="0.1" stroke="none"/></g>
<g id="vl"><clipPath id="cv248"><rect x="243.8" y="90.3" width="10" height="7.2"/><rect x="243.8" y="254" width="10" height="364.9"/><rect x="249.25" y="97" width="6" height="158"/></clipPath><line clip-path="url(#cv248)" x1="248.80" x2="248.80" y1="618.9" y2="90.3" stroke="#96bfbe" stroke-width="3.1" stroke-dasharray="12.57 12.57" stroke-dashoffset="0.9"/><clipPath id="cv926"><rect x="921.4" y="90.3" width="10" height="7.2"/><rect x="921.4" y="254" width="10" height="364.9"/><rect x="926.85" y="97" width="6" height="158"/></clipPath><line clip-path="url(#cv926)" x1="926.40" x2="926.40" y1="618.9" y2="90.3" stroke="#96bfbe" stroke-width="3.1" stroke-dasharray="12.57 12.57" stroke-dashoffset="0.9"/></g>
<g id="curL"><path d="M249.7,595.4 L251.6,593.4 L253.6,590.3 L255.8,586.1 L256.9,582.7 L257.6,575.0 L258.4,563.1 L259.3,551.1 L260.1,540.9 L261.0,532.4 L261.8,525.6 L263.2,519.6 L264.2,514.5 L265.2,506.8 L266.1,500.0 L266.9,487.3 L268.5,470.2 L269.8,458.3 L271.5,448.1 L274.1,427.6 L276.6,412.3 L278.9,401.2 L280.9,394.4 L283.5,385.0 L284.1,374.0 L286.6,358.6 L288.4,350.1 L290.9,339.9 L294.3,328.8 L296.9,322.8 L300.3,312.6 L303.7,303.2 L307.1,295.6 L310.5,288.7 L313.1,285.0 L315.6,281.9 L318.2,276.8 L320.7,272.6 L325.6,266.6 L332.4,259.0 L339.2,251.3 L346.0,245.0 L352.8,239.7 L359.7,235.1 L363.9,231.4 L371.6,226.9 L380.1,222.0 L388.6,217.2 L397.2,213.5 L405.7,209.9 L414.2,206.1 L422.7,201.9 L427.8,199.7 L431.2,196.8 L436.4,195.1 L444.9,192.5 L453.4,189.1 L459.4,186.5 L463.6,184.8 L466.2,183.1 L470.4,181.4 L475.6,179.7 L484.8,177.0 L487.0,176.1 L493.9,173.9 L500.7,170.1 L505.8,168.4 L508.4,165.5 L514.3,163.6 L519.4,161.9 L526.2,159.0 L534.8,156.1 L541.6,154.4 L545.8,153.1 L555.2,151.0 L565.4,148.5 L575.7,146.2 L580.8,144.5 L589.3,142.8 L597.8,141.5 L606.4,139.4 L611.5,136.0 L617.4,134.7 L620.0,130.9 L622.5,129.5 L630.2,128.9 L640.4,127.5 L649.7,126.2 L662.5,125.1 L668.2,124.1 L679.5,123.0 L690.9,121.8 L699.0,120.7" fill="none" stroke="#5785b8" stroke-width="3.1" stroke-linejoin="round" stroke-linecap="butt"/>
<path d="M174.9,595.1 L220.4,595.1 L223.8,593.7 L228.1,591.7 L234.0,590.0 L240.0,588.6 L241.4,586.1 L243.1,577.7 L245.1,577.0 L251.9,576.5 L259.3,574.7 L260.4,572.4 L262.2,566.8 L263.9,561.4 L265.6,555.9 L269.0,548.1 L272.7,539.5 L276.6,535.5 L280.9,531.9 L282.3,527.3 L285.2,525.1 L288.1,523.0 L290.3,519.1 L292.5,516.2 L295.4,511.6 L297.9,506.0 L300.5,500.9 L302.2,493.2 L308.2,489.8 L315.0,485.9 L319.3,481.3 L323.5,476.2 L325.2,471.9 L327.8,467.7 L330.3,460.0 L333.7,454.0 L337.5,448.4 L339.4,441.2 L340.6,434.4 L344.0,430.2 L349.1,425.9 L353.3,419.1 L357.6,410.6 L360.2,407.2 L363.1,403.7 L365.3,398.6 L367.8,393.5 L370.9,389.3 L376.1,385.1 L381.2,379.1 L386.4,371.4 L391.5,362.9 L395.7,354.4 L398.3,346.7 L401.7,339.0 L405.1,334.8 L409.4,328.8 L414.5,319.4 L420.4,310.1 L425.6,302.4 L431.9,295.0 L437.0,288.3 L442.2,281.5 L447.3,273.9 L454.1,265.3 L459.5,260.2 L460.6,256.5 L464.7,252.6 L466.9,248.3 L472.8,239.8 L478.8,232.1 L484.8,226.1 L489.9,216.8 L495.8,209.9 L499.8,202.3 L501.8,197.2 L505.2,190.3 L508.6,185.2 L514.6,181.5 L518.9,178.4 L522.8,175.2 L529.7,170.4 L538.2,164.1 L543.3,159.0 L544.7,155.6 L546.7,152.7 L551.0,149.3 L558.6,146.2 L565.4,143.3 L570.6,139.4 L575.7,136.9 L582.5,133.5 L589.3,131.4 L597.8,128.9 L606.4,126.1 L614.9,124.1 L623.4,122.4 L628.5,121.0 L637.0,119.8 L643.9,118.1 L645.5,117.3 L651.1,116.7 L656.1,115.9 L660.4,114.1 L665.3,113.9 L679.5,113.9 L698.0,113.9" fill="none" stroke="#a3313c" stroke-width="3.1" stroke-linejoin="round" stroke-linecap="butt"/></g>
<g id="curR"><path d="M927.3,595.7 L930.3,593.1 L933.7,588.0 L935.1,582.0 L936.3,571.8 L937.5,558.2 L938.9,544.5 L940.2,536.0 L942.3,524.1 L944.0,512.2 L945.7,500.2 L947.0,490.0 L947.7,480.6 L950.3,470.3 L952.0,460.1 L953.7,449.9 L955.4,440.5 L958.0,431.1 L960.5,420.9 L963.1,410.7 L963.9,403.9 L964.4,393.6 L965.1,380.0 L965.8,374.1 L968.4,365.6 L971.8,357.0 L976.0,348.5 L981.1,340.8 L984.5,336.6 L987.1,332.3 L990.5,328.1 L996.5,322.1 L1003.3,317.0 L1010.1,313.6 L1018.6,309.3 L1023.7,305.1 L1031.4,299.9 L1039.1,295.7 L1045.9,290.6 L1051.0,285.5 L1057.8,282.0 L1066.4,279.0 L1078.3,275.6 L1085.1,271.8 L1093.6,268.4 L1101.4,264.3 L1111.6,260.6 L1125.2,256.3 L1138.9,252.0 L1149.1,247.3 L1159.3,244.4 L1171.2,240.1 L1178.1,235.0 L1184.0,231.9 L1185.7,229.0 L1193.4,225.6 L1203.6,220.8 L1212.1,217.1 L1221.1,212.9 L1229.7,210.1 L1238.2,206.6 L1245.0,202.4 L1247.6,199.3 L1253.5,195.6 L1258.6,191.3 L1263.4,187.9 L1268.9,182.3 L1275.7,176.0 L1282.5,171.7 L1289.3,167.4 L1298.0,161.8 L1305.9,161.6 L1307.6,159.1 L1312.7,158.4 L1329.8,157.0 L1342.3,157.0" fill="none" stroke="#5785b8" stroke-width="3.1" stroke-linejoin="round" stroke-linecap="butt"/>
<path d="M852.8,585.4 L863.9,584.3 L865.6,581.2 L870.7,576.6 L874.9,570.4 L878.4,568.4 L882.3,565.0 L886.0,563.8 L890.3,561.9 L894.5,560.4 L898.8,557.8 L903.1,555.6 L906.1,554.4 L907.8,552.2 L915.8,548.5 L918.4,542.0 L920.1,540.6 L923.5,539.1 L925.2,532.6 L927.3,525.8 L929.8,519.0 L930.3,512.2 L932.0,502.8 L933.7,498.5 L935.4,491.7 L935.4,491.6 L937.5,488.2 L940.9,481.4 L942.3,472.9 L943.5,463.5 L947.7,459.8 L951.1,454.1 L954.5,450.7 L958.8,448.2 L959.7,438.0 L962.2,434.5 L967.3,429.4 L971.6,424.3 L973.6,419.2 L975.3,414.1 L978.4,408.1 L982.7,404.7 L987.3,401.8 L988.6,397.9 L992.0,394.0 L995.4,391.1 L998.9,386.8 L1002.3,381.4 L1003.3,377.5 L1005.0,369.0 L1010.1,360.4 L1013.5,351.9 L1014.4,345.1 L1018.6,338.3 L1020.3,331.5 L1023.7,324.7 L1028.9,314.4 L1034.0,304.2 L1039.1,295.7 L1044.2,288.0 L1049.3,281.2 L1054.4,274.4 L1057.8,270.1 L1062.1,265.0 L1063.9,261.4 L1072.4,249.5 L1076.6,241.0 L1081.8,233.3 L1086.0,229.9 L1088.6,225.6 L1094.5,219.7 L1103.9,213.7 L1106.5,208.6 L1110.7,203.5 L1115.0,198.4 L1123.5,191.5 L1132.0,187.3 L1140.6,182.2 L1144.0,179.6 L1152.5,176.2 L1159.3,171.9 L1162.7,169.9 L1176.4,166.0 L1184.9,163.1 L1189.1,160.9 L1193.0,153.0 L1199.8,147.0 L1202.4,142.4 L1209.2,139.0 L1217.7,136.8 L1224.5,134.5 L1228.8,132.5 L1238.2,129.9 L1246.7,127.4 L1253.5,125.7 L1258.6,122.3 L1267.2,121.4 L1275.7,119.7 L1289.3,116.6 L1297.8,116.1 L1306.4,115.8 L1307.0,115.2 L1315.0,114.1 L1375.8,114.1" fill="none" stroke="#a3313c" stroke-width="3.1" stroke-linejoin="round" stroke-linecap="butt"/></g>
<g id="boxes">
<rect x="395.3" y="404.2" width="349.5" height="93.6" rx="4" ry="4" fill="#fefefc"/>
<rect x="1072.9" y="404.2" width="349.5" height="93.6" rx="4" ry="4" fill="#fefefc"/>
</g>
<g id="txt">
<text id="t0" x="16.80" y="32.50" textLength="74.70" lengthAdjust="spacingAndGlyphs" font-size="27" fill="#1c1c1c" stroke="#1c1c1c" stroke-width="0.5" stroke-linejoin="round">Figure</text>
<text id="t1" x="99.10" y="32.50" textLength="36.70" lengthAdjust="spacingAndGlyphs" font-size="27" fill="#1c1c1c" stroke="#1c1c1c" stroke-width="0.5" stroke-linejoin="round">22:</text>
<text id="t2" x="142.20" y="32.50" textLength="148.50" lengthAdjust="spacingAndGlyphs" font-size="27" fill="#1c1c1c" stroke="#1c1c1c" stroke-width="0.5" stroke-linejoin="round">Comparison</text>
<text id="t3" x="298.60" y="32.50" textLength="24.20" lengthAdjust="spacingAndGlyphs" font-size="27" fill="#1c1c1c" stroke="#1c1c1c" stroke-width="0.5" stroke-linejoin="round">of</text>
<text id="t4" x="328.70" y="32.50" textLength="218.80" lengthAdjust="spacingAndGlyphs" font-size="27" fill="#1c1c1c" stroke="#1c1c1c" stroke-width="0.5" stroke-linejoin="round">attacker-defender</text>
<text id="t5" x="556.20" y="32.50" textLength="74.50" lengthAdjust="spacingAndGlyphs" font-size="27" fill="#1c1c1c" stroke="#1c1c1c" stroke-width="0.5" stroke-linejoin="round">divide</text>
<text id="t6" x="637.50" y="32.50" textLength="66.70" lengthAdjust="spacingAndGlyphs" font-size="27" fill="#1c1c1c" stroke="#1c1c1c" stroke-width="0.5" stroke-linejoin="round">when</text>
<text id="t7" x="710.50" y="32.50" textLength="82.70" lengthAdjust="spacingAndGlyphs" font-size="27" fill="#1c1c1c" stroke="#1c1c1c" stroke-width="0.5" stroke-linejoin="round">exploit</text>
<text id="t8" x="801.00" y="32.50" textLength="58.80" lengthAdjust="spacingAndGlyphs" font-size="27" fill="#1c1c1c" stroke="#1c1c1c" stroke-width="0.5" stroke-linejoin="round">code</text>
<text id="t9" x="867.80" y="32.50" textLength="98.60" lengthAdjust="spacingAndGlyphs" font-size="27" fill="#1c1c1c" stroke="#1c1c1c" stroke-width="0.5" stroke-linejoin="round">releases</text>
<text id="t10" x="972.70" y="32.50" textLength="54.30" lengthAdjust="spacingAndGlyphs" font-size="27" fill="#1c1c1c" stroke="#1c1c1c" stroke-width="0.5" stroke-linejoin="round">after</text>
<text id="t11" x="1035.80" y="32.50" textLength="33.40" lengthAdjust="spacingAndGlyphs" font-size="27" fill="#1c1c1c" stroke="#1c1c1c" stroke-width="0.5" stroke-linejoin="round">vs.</text>
<text id="t12" x="1077.10" y="32.50" textLength="77.70" lengthAdjust="spacingAndGlyphs" font-size="27" fill="#1c1c1c" stroke="#1c1c1c" stroke-width="0.5" stroke-linejoin="round">before</text>
<text id="t13" x="1161.20" y="32.50" textLength="69.00" lengthAdjust="spacingAndGlyphs" font-size="27" fill="#1c1c1c" stroke="#1c1c1c" stroke-width="0.5" stroke-linejoin="round">patch</text>
<text id="t14" x="1236.60" y="32.50" textLength="133.50" lengthAdjust="spacingAndGlyphs" font-size="27" fill="#1c1c1c" stroke="#1c1c1c" stroke-width="0.5" stroke-linejoin="round">availability</text>
<text id="y0" x="94.80" y="604.45" textLength="34.50" lengthAdjust="spacingAndGlyphs" font-size="24.3" fill="#4d4d4d" stroke="#4d4d4d" stroke-width="0.45" stroke-linejoin="round">0%</text>
<text id="y1" x="81.00" y="508.21" textLength="48.30" lengthAdjust="spacingAndGlyphs" font-size="24.3" fill="#4d4d4d" stroke="#4d4d4d" stroke-width="0.45" stroke-linejoin="round">20%</text>
<text id="y2" x="82.00" y="411.97" textLength="47.30" lengthAdjust="spacingAndGlyphs" font-size="24.3" fill="#4d4d4d" stroke="#4d4d4d" stroke-width="0.45" stroke-linejoin="round">40%</text>
<text id="y3" x="81.00" y="315.73" textLength="48.30" lengthAdjust="spacingAndGlyphs" font-size="24.3" fill="#4d4d4d" stroke="#4d4d4d" stroke-width="0.45" stroke-linejoin="round">60%</text>
<text id="y4" x="81.00" y="219.49" textLength="48.30" lengthAdjust="spacingAndGlyphs" font-size="24.3" fill="#4d4d4d" stroke="#4d4d4d" stroke-width="0.45" stroke-linejoin="round">80%</text>
<text id="y5" x="68.85" y="123.25" textLength="60.45" lengthAdjust="spacingAndGlyphs" font-size="24.3" fill="#4d4d4d" stroke="#4d4d4d" stroke-width="0.45" stroke-linejoin="round">100%</text>
<text id="xa0" x="242.30" y="651.10" textLength="11.70" lengthAdjust="spacingAndGlyphs" font-size="24.3" fill="#4d4d4d" stroke="#4d4d4d" stroke-width="0.45" stroke-linejoin="round">0</text>
<text id="xa1" x="355.30" y="651.10" textLength="12.00" lengthAdjust="spacingAndGlyphs" font-size="24.3" fill="#4d4d4d" stroke="#4d4d4d" stroke-width="0.45" stroke-linejoin="round">3</text>
<text id="xa2" x="468.00" y="651.10" textLength="12.00" lengthAdjust="spacingAndGlyphs" font-size="24.3" fill="#4d4d4d" stroke="#4d4d4d" stroke-width="0.45" stroke-linejoin="round">6</text>
<text id="xa3" x="581.30" y="651.10" textLength="12.00" lengthAdjust="spacingAndGlyphs" font-size="24.3" fill="#4d4d4d" stroke="#4d4d4d" stroke-width="0.45" stroke-linejoin="round">9</text>
<text id="xa4" x="686.70" y="651.10" textLength="25.60" lengthAdjust="spacingAndGlyphs" font-size="24.3" fill="#4d4d4d" stroke="#4d4d4d" stroke-width="0.45" stroke-linejoin="round">12</text>
<text id="xb0" x="919.70" y="651.10" textLength="11.70" lengthAdjust="spacingAndGlyphs" font-size="24.3" fill="#4d4d4d" stroke="#4d4d4d" stroke-width="0.45" stroke-linejoin="round">0</text>
<text id="xb1" x="1032.70" y="651.10" textLength="12.00" lengthAdjust="spacingAndGlyphs" font-size="24.3" fill="#4d4d4d" stroke="#4d4d4d" stroke-width="0.45" stroke-linejoin="round">3</text>
<text id="xb2" x="1146.40" y="651.10" textLength="12.00" lengthAdjust="spacingAndGlyphs" font-size="24.3" fill="#4d4d4d" stroke="#4d4d4d" stroke-width="0.45" stroke-linejoin="round">6</text>
<text id="xb3" x="1258.70" y="651.10" textLength="12.00" lengthAdjust="spacingAndGlyphs" font-size="24.3" fill="#4d4d4d" stroke="#4d4d4d" stroke-width="0.45" stroke-linejoin="round">9</text>
<text id="xb4" x="1364.10" y="651.10" textLength="25.60" lengthAdjust="spacingAndGlyphs" font-size="24.3" fill="#4d4d4d" stroke="#4d4d4d" stroke-width="0.45" stroke-linejoin="round">12</text>
<text id="xt" x="716.40" y="686.30" textLength="193.10" lengthAdjust="spacingAndGlyphs" font-size="30" fill="#0a0a0a" stroke="#0a0a0a" stroke-width="0.45" stroke-linejoin="round">Time (Months)</text>
<text id="yt1" transform="translate(54.00,487.40) rotate(-90)" x="0" y="0" textLength="154.80" lengthAdjust="spacingAndGlyphs" font-size="30" fill="#0a0a0a" stroke="#0a0a0a" stroke-width="0.45" stroke-linejoin="round">Cumulative</text>
<text id="yt2" transform="translate(54.00,325.20) rotate(-90)" x="0" y="0" textLength="102.90" lengthAdjust="spacingAndGlyphs" font-size="30" fill="#0a0a0a" stroke="#0a0a0a" stroke-width="0.45" stroke-linejoin="round">Percent</text>
<text id="pa1" transform="translate(249.00,251.00) rotate(-90)" x="0" y="0" textLength="49.80" lengthAdjust="spacingAndGlyphs" font-size="22" fill="#3f9189" stroke="#3f9189" stroke-width="0.45" stroke-linejoin="round">Patch</text>
<text id="pa2" transform="translate(249.00,191.40) rotate(-90)" x="0" y="0" textLength="90.20" lengthAdjust="spacingAndGlyphs" font-size="22" fill="#3f9189" stroke="#3f9189" stroke-width="0.45" stroke-linejoin="round">Available</text>
<text id="pb1" transform="translate(926.60,251.00) rotate(-90)" x="0" y="0" textLength="49.80" lengthAdjust="spacingAndGlyphs" font-size="22" fill="#3f9189" stroke="#3f9189" stroke-width="0.45" stroke-linejoin="round">Patch</text>
<text id="pb2" transform="translate(926.60,191.40) rotate(-90)" x="0" y="0" textLength="90.20" lengthAdjust="spacingAndGlyphs" font-size="22" fill="#3f9189" stroke="#3f9189" stroke-width="0.45" stroke-linejoin="round">Available</text>
<text id="lb1" x="328.60" y="149.70" textLength="142.20" lengthAdjust="spacingAndGlyphs" font-size="23.3" fill="#5785b8" stroke="#5785b8" stroke-width="0.45" stroke-linejoin="round">Remediation</text>
<text id="lb2" x="284.60" y="171.70" textLength="17.40" lengthAdjust="spacingAndGlyphs" font-size="23.3" fill="#5785b8" stroke="#5785b8" stroke-width="0.45" stroke-linejoin="round">of</text>
<text id="lb3" x="312.20" y="171.70" textLength="158.60" lengthAdjust="spacingAndGlyphs" font-size="23.3" fill="#5785b8" stroke="#5785b8" stroke-width="0.45" stroke-linejoin="round">Vulnerabilities</text>
<text id="lr1" x="458.00" y="285.50" textLength="106.80" lengthAdjust="spacingAndGlyphs" font-size="23.3" fill="#a3313c" stroke="#a3313c" stroke-width="0.45" stroke-linejoin="round">Detection</text>
<text id="lr2" x="572.70" y="285.50" textLength="21.10" lengthAdjust="spacingAndGlyphs" font-size="23.3" fill="#a3313c" stroke="#a3313c" stroke-width="0.45" stroke-linejoin="round">of</text>
<text id="lr3" x="458.00" y="307.50" textLength="88.20" lengthAdjust="spacingAndGlyphs" font-size="23.3" fill="#a3313c" stroke="#a3313c" stroke-width="0.45" stroke-linejoin="round">Exploits</text>
<text id="lr4" x="551.70" y="307.50" textLength="20.60" lengthAdjust="spacingAndGlyphs" font-size="23.3" fill="#a3313c" stroke="#a3313c" stroke-width="0.45" stroke-linejoin="round">in</text>
<text id="lr5" x="577.50" y="307.50" textLength="36.00" lengthAdjust="spacingAndGlyphs" font-size="23.3" fill="#a3313c" stroke="#a3313c" stroke-width="0.45" stroke-linejoin="round">the</text>
<text id="lr6" x="621.20" y="307.50" textLength="47.30" lengthAdjust="spacingAndGlyphs" font-size="23.3" fill="#a3313c" stroke="#a3313c" stroke-width="0.45" stroke-linejoin="round">Wild</text>
<text id="rr1" x="1013.90" y="149.50" textLength="106.20" lengthAdjust="spacingAndGlyphs" font-size="23.3" fill="#a3313c" stroke="#a3313c" stroke-width="0.45" stroke-linejoin="round">Detection</text>
<text id="rr2" x="1126.70" y="149.50" textLength="20.80" lengthAdjust="spacingAndGlyphs" font-size="23.3" fill="#a3313c" stroke="#a3313c" stroke-width="0.45" stroke-linejoin="round">of</text>
<text id="rr3" x="938.60" y="171.30" textLength="87.00" lengthAdjust="spacingAndGlyphs" font-size="23.3" fill="#a3313c" stroke="#a3313c" stroke-width="0.45" stroke-linejoin="round">Exploits</text>
<text id="rr4" x="1032.00" y="171.30" textLength="19.90" lengthAdjust="spacingAndGlyphs" font-size="23.3" fill="#a3313c" stroke="#a3313c" stroke-width="0.45" stroke-linejoin="round">in</text>
<text id="rr5" x="1058.00" y="171.30" textLength="35.50" lengthAdjust="spacingAndGlyphs" font-size="23.3" fill="#a3313c" stroke="#a3313c" stroke-width="0.45" stroke-linejoin="round">the</text>
<text id="rr6" x="1100.80" y="171.30" textLength="46.00" lengthAdjust="spacingAndGlyphs" font-size="23.3" fill="#a3313c" stroke="#a3313c" stroke-width="0.45" stroke-linejoin="round">Wild</text>
<text id="rb1" x="1172.50" y="266.40" textLength="142.70" lengthAdjust="spacingAndGlyphs" font-size="23.3" fill="#5785b8" stroke="#5785b8" stroke-width="0.45" stroke-linejoin="round">Remediation</text>
<text id="rb2" x="1173.20" y="288.40" textLength="20.10" lengthAdjust="spacingAndGlyphs" font-size="23.3" fill="#5785b8" stroke="#5785b8" stroke-width="0.45" stroke-linejoin="round">of</text>
<text id="rb3" x="1201.60" y="288.40" textLength="156.90" lengthAdjust="spacingAndGlyphs" font-size="23.3" fill="#5785b8" stroke="#5785b8" stroke-width="0.45" stroke-linejoin="round">Vulnerabilities</text>
<text id="al1" x="407.00" y="432.90" textLength="61.60" lengthAdjust="spacingAndGlyphs" font-size="23.3" fill="#4d4d4d" stroke="#4d4d4d" stroke-width="0.45" stroke-linejoin="round">When</text>
<text id="al2" x="474.60" y="432.90" textLength="74.60" lengthAdjust="spacingAndGlyphs" font-size="23.3" fill="#4d4d4d" stroke="#4d4d4d" stroke-width="0.45" stroke-linejoin="round">exploit</text>
<text id="al3" x="556.30" y="432.90" textLength="53.70" lengthAdjust="spacingAndGlyphs" font-size="23.3" fill="#4d4d4d" stroke="#4d4d4d" stroke-width="0.45" stroke-linejoin="round">code</text>
<text id="al4" x="616.10" y="432.90" textLength="16.00" lengthAdjust="spacingAndGlyphs" font-size="23.3" fill="#4d4d4d" stroke="#4d4d4d" stroke-width="0.45" stroke-linejoin="round">is</text>
<text id="al5" x="639.10" y="432.90" textLength="92.20" lengthAdjust="spacingAndGlyphs" font-size="23.3" fill="#4d4d4d" stroke="#4d4d4d" stroke-width="0.45" stroke-linejoin="round">released</text>
<text id="ar1" x="1084.60" y="432.90" textLength="61.60" lengthAdjust="spacingAndGlyphs" font-size="23.3" fill="#4d4d4d" stroke="#4d4d4d" stroke-width="0.45" stroke-linejoin="round">When</text>
<text id="ar2" x="1152.20" y="432.90" textLength="74.60" lengthAdjust="spacingAndGlyphs" font-size="23.3" fill="#4d4d4d" stroke="#4d4d4d" stroke-width="0.45" stroke-linejoin="round">exploit</text>
<text id="ar3" x="1233.90" y="432.90" textLength="52.70" lengthAdjust="spacingAndGlyphs" font-size="23.3" fill="#4d4d4d" stroke="#4d4d4d" stroke-width="0.45" stroke-linejoin="round">code</text>
<text id="ar4" x="1292.70" y="432.90" textLength="17.00" lengthAdjust="spacingAndGlyphs" font-size="23.3" fill="#4d4d4d" stroke="#4d4d4d" stroke-width="0.45" stroke-linejoin="round">is</text>
<text id="ar5" x="1315.70" y="432.90" textLength="93.20" lengthAdjust="spacingAndGlyphs" font-size="23.3" fill="#4d4d4d" stroke="#4d4d4d" stroke-width="0.45" stroke-linejoin="round">released</text>
<text id="al6" x="422.00" y="456.50" textLength="54.70" lengthAdjust="spacingAndGlyphs" font-size="23.3" fill="#4d4d4d" stroke="#4d4d4d" stroke-width="0.6" stroke-linejoin="round" font-weight="bold">after</text>
<text id="al7" x="484.60" y="456.50" textLength="36.60" lengthAdjust="spacingAndGlyphs" font-size="23.3" fill="#4d4d4d" stroke="#4d4d4d" stroke-width="0.6" stroke-linejoin="round" font-weight="bold">the</text>
<text id="al8" x="528.60" y="456.50" textLength="65.90" lengthAdjust="spacingAndGlyphs" font-size="23.3" fill="#4d4d4d" stroke="#4d4d4d" stroke-width="0.6" stroke-linejoin="round" font-weight="bold">patch</text>
<text id="al9" x="594.60" y="456.50" font-size="23.3" fill="#4d4d4d" stroke="#4d4d4d" stroke-width="0.45" stroke-linejoin="round">,</text>
<text id="al10" x="607.40" y="456.50" textLength="109.60" lengthAdjust="spacingAndGlyphs" font-size="23.3" fill="#4d4d4d" stroke="#4d4d4d" stroke-width="0.45" stroke-linejoin="round">defenders</text>
<text id="al11" x="421.00" y="479.80" textLength="77.90" lengthAdjust="spacingAndGlyphs" font-size="23.3" fill="#4d4d4d" stroke="#4d4d4d" stroke-width="0.45" stroke-linejoin="round">appear</text>
<text id="al12" x="506.10" y="479.80" textLength="21.30" lengthAdjust="spacingAndGlyphs" font-size="23.3" fill="#4d4d4d" stroke="#4d4d4d" stroke-width="0.45" stroke-linejoin="round">to</text>
<text id="al13" x="533.00" y="479.80" textLength="47.80" lengthAdjust="spacingAndGlyphs" font-size="23.3" fill="#4d4d4d" stroke="#4d4d4d" stroke-width="0.45" stroke-linejoin="round" font-style="italic">gain</text>
<text id="al14" x="587.20" y="479.80" textLength="129.60" lengthAdjust="spacingAndGlyphs" font-size="23.3" fill="#4d4d4d" stroke="#4d4d4d" stroke-width="0.45" stroke-linejoin="round">momentum</text>
<text id="ar6" x="1088.20" y="456.50" textLength="76.50" lengthAdjust="spacingAndGlyphs" font-size="23.3" fill="#4d4d4d" stroke="#4d4d4d" stroke-width="0.6" stroke-linejoin="round" font-weight="bold">before</text>
<text id="ar7" x="1172.40" y="456.50" textLength="36.90" lengthAdjust="spacingAndGlyphs" font-size="23.3" fill="#4d4d4d" stroke="#4d4d4d" stroke-width="0.6" stroke-linejoin="round" font-weight="bold">the</text>
<text id="ar8" x="1216.00" y="456.50" textLength="66.10" lengthAdjust="spacingAndGlyphs" font-size="23.3" fill="#4d4d4d" stroke="#4d4d4d" stroke-width="0.6" stroke-linejoin="round" font-weight="bold">patch</text>
<text id="ar9" x="1281.80" y="456.50" font-size="23.3" fill="#4d4d4d" stroke="#4d4d4d" stroke-width="0.45" stroke-linejoin="round">,</text>
<text id="ar10" x="1294.10" y="456.50" textLength="110.80" lengthAdjust="spacingAndGlyphs" font-size="23.3" fill="#4d4d4d" stroke="#4d4d4d" stroke-width="0.45" stroke-linejoin="round">defenders</text>
<text id="ar11" x="1098.20" y="479.80" textLength="77.30" lengthAdjust="spacingAndGlyphs" font-size="23.3" fill="#4d4d4d" stroke="#4d4d4d" stroke-width="0.45" stroke-linejoin="round">appear</text>
<text id="ar12" x="1182.50" y="479.80" textLength="20.50" lengthAdjust="spacingAndGlyphs" font-size="23.3" fill="#4d4d4d" stroke="#4d4d4d" stroke-width="0.45" stroke-linejoin="round">to</text>
<text id="ar13" x="1210.40" y="479.80" textLength="40.90" lengthAdjust="spacingAndGlyphs" font-size="23.3" fill="#4d4d4d" stroke="#4d4d4d" stroke-width="0.45" stroke-linejoin="round" font-style="italic">lose</text>
<text id="ar14" x="1258.30" y="479.80" textLength="138.50" lengthAdjust="spacingAndGlyphs" font-size="23.3" fill="#4d4d4d" stroke="#4d4d4d" stroke-width="0.45" stroke-linejoin="round">momemtum</text>
</g>
</g>
</svg>
</body>
</html>
